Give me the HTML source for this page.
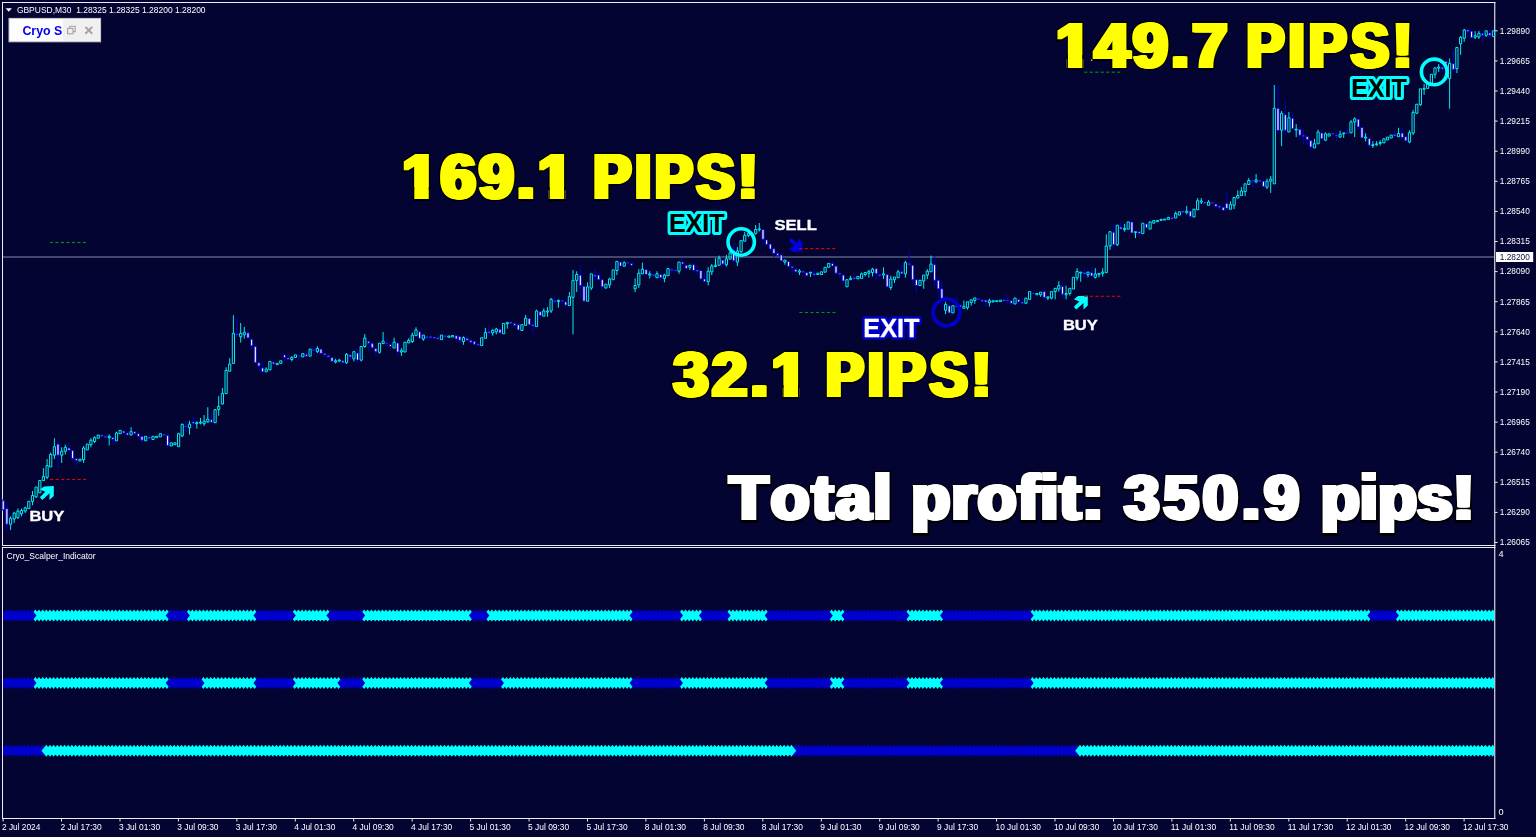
<!DOCTYPE html>
<html lang="en"><head><meta charset="utf-8"><title>GBPUSD M30 - Cryo Scalper</title>
<style>
html,body{margin:0;padding:0;background:#040433;width:1536px;height:837px;overflow:hidden}
svg{display:block;position:absolute;left:0;top:0}
text{font-family:"Liberation Sans",sans-serif}
.ax{font-size:9.2px;fill:#fff}
.big{font-family:"Liberation Sans",sans-serif;font-weight:700;stroke-linejoin:miter;stroke-miterlimit:3;font-kerning:none}
.lab{font-family:"DejaVu Sans","Liberation Sans",sans-serif;font-weight:700;fill:#fff}
.ex{font-family:"Liberation Sans",sans-serif;font-weight:700;stroke-linejoin:round}
</style></head><body>
<svg width="1536" height="837" viewBox="0 0 1536 837">
<rect width="1536" height="837" fill="#040433"/>

<g fill="#ececf2">
<rect x="2" y="2" width="1493.5" height="1"/>
<rect x="2" y="2" width="1" height="544"/>
<rect x="2" y="547" width="1" height="272"/>
<rect x="1494.2" y="2" width="1.1" height="817"/>
<rect x="2" y="545" width="1493.5" height="1"/>
<rect x="2" y="547" width="1493.5" height="1"/>
<rect x="2" y="818" width="1493.5" height="1"/>
<rect x="1495" y="30.3" width="2.6" height="1"/>
<rect x="1495" y="60.4" width="2.6" height="1"/>
<rect x="1495" y="90.5" width="2.6" height="1"/>
<rect x="1495" y="120.6" width="2.6" height="1"/>
<rect x="1495" y="150.7" width="2.6" height="1"/>
<rect x="1495" y="180.8" width="2.6" height="1"/>
<rect x="1495" y="210.9" width="2.6" height="1"/>
<rect x="1495" y="241.0" width="2.6" height="1"/>
<rect x="1495" y="271.1" width="2.6" height="1"/>
<rect x="1495" y="301.2" width="2.6" height="1"/>
<rect x="1495" y="331.3" width="2.6" height="1"/>
<rect x="1495" y="361.4" width="2.6" height="1"/>
<rect x="1495" y="391.5" width="2.6" height="1"/>
<rect x="1495" y="421.6" width="2.6" height="1"/>
<rect x="1495" y="451.7" width="2.6" height="1"/>
<rect x="1495" y="481.8" width="2.6" height="1"/>
<rect x="1495" y="511.9" width="2.6" height="1"/>
<rect x="1495" y="542.0" width="2.6" height="1"/>
<rect x="2.6" y="819" width="1" height="2.5"/>
<rect x="61.0" y="819" width="1" height="2.5"/>
<rect x="119.5" y="819" width="1" height="2.5"/>
<rect x="177.9" y="819" width="1" height="2.5"/>
<rect x="236.4" y="819" width="1" height="2.5"/>
<rect x="294.8" y="819" width="1" height="2.5"/>
<rect x="353.2" y="819" width="1" height="2.5"/>
<rect x="411.7" y="819" width="1" height="2.5"/>
<rect x="470.1" y="819" width="1" height="2.5"/>
<rect x="528.6" y="819" width="1" height="2.5"/>
<rect x="587.0" y="819" width="1" height="2.5"/>
<rect x="645.4" y="819" width="1" height="2.5"/>
<rect x="703.9" y="819" width="1" height="2.5"/>
<rect x="762.3" y="819" width="1" height="2.5"/>
<rect x="820.8" y="819" width="1" height="2.5"/>
<rect x="879.2" y="819" width="1" height="2.5"/>
<rect x="937.6" y="819" width="1" height="2.5"/>
<rect x="996.1" y="819" width="1" height="2.5"/>
<rect x="1054.5" y="819" width="1" height="2.5"/>
<rect x="1113.0" y="819" width="1" height="2.5"/>
<rect x="1171.4" y="819" width="1" height="2.5"/>
<rect x="1229.8" y="819" width="1" height="2.5"/>
<rect x="1288.3" y="819" width="1" height="2.5"/>
<rect x="1346.7" y="819" width="1" height="2.5"/>
<rect x="1405.2" y="819" width="1" height="2.5"/>
<rect x="1463.6" y="819" width="1" height="2.5"/>
</g>
<g class="ax">
<text x="1499.8" y="33.6" textLength="30" lengthAdjust="spacingAndGlyphs">1.29890</text>
<text x="1499.8" y="63.7" textLength="30" lengthAdjust="spacingAndGlyphs">1.29665</text>
<text x="1499.8" y="93.8" textLength="30" lengthAdjust="spacingAndGlyphs">1.29440</text>
<text x="1499.8" y="123.9" textLength="30" lengthAdjust="spacingAndGlyphs">1.29215</text>
<text x="1499.8" y="154.0" textLength="30" lengthAdjust="spacingAndGlyphs">1.28990</text>
<text x="1499.8" y="184.1" textLength="30" lengthAdjust="spacingAndGlyphs">1.28765</text>
<text x="1499.8" y="214.2" textLength="30" lengthAdjust="spacingAndGlyphs">1.28540</text>
<text x="1499.8" y="244.3" textLength="30" lengthAdjust="spacingAndGlyphs">1.28315</text>
<text x="1499.8" y="274.4" textLength="30" lengthAdjust="spacingAndGlyphs">1.28090</text>
<text x="1499.8" y="304.5" textLength="30" lengthAdjust="spacingAndGlyphs">1.27865</text>
<text x="1499.8" y="334.6" textLength="30" lengthAdjust="spacingAndGlyphs">1.27640</text>
<text x="1499.8" y="364.7" textLength="30" lengthAdjust="spacingAndGlyphs">1.27415</text>
<text x="1499.8" y="394.8" textLength="30" lengthAdjust="spacingAndGlyphs">1.27190</text>
<text x="1499.8" y="424.9" textLength="30" lengthAdjust="spacingAndGlyphs">1.26965</text>
<text x="1499.8" y="455.0" textLength="30" lengthAdjust="spacingAndGlyphs">1.26740</text>
<text x="1499.8" y="485.1" textLength="30" lengthAdjust="spacingAndGlyphs">1.26515</text>
<text x="1499.8" y="515.2" textLength="30" lengthAdjust="spacingAndGlyphs">1.26290</text>
<text x="1499.8" y="545.3" textLength="30" lengthAdjust="spacingAndGlyphs">1.26065</text>
<text x="2.0" y="830.2" textLength="38.3" lengthAdjust="spacingAndGlyphs">2 Jul 2024</text>
<text x="60.4" y="830.2" textLength="41.2" lengthAdjust="spacingAndGlyphs">2 Jul 17:30</text>
<text x="118.9" y="830.2" textLength="41.2" lengthAdjust="spacingAndGlyphs">3 Jul 01:30</text>
<text x="177.3" y="830.2" textLength="41.2" lengthAdjust="spacingAndGlyphs">3 Jul 09:30</text>
<text x="235.8" y="830.2" textLength="41.2" lengthAdjust="spacingAndGlyphs">3 Jul 17:30</text>
<text x="294.2" y="830.2" textLength="41.2" lengthAdjust="spacingAndGlyphs">4 Jul 01:30</text>
<text x="352.6" y="830.2" textLength="41.2" lengthAdjust="spacingAndGlyphs">4 Jul 09:30</text>
<text x="411.1" y="830.2" textLength="41.2" lengthAdjust="spacingAndGlyphs">4 Jul 17:30</text>
<text x="469.5" y="830.2" textLength="41.2" lengthAdjust="spacingAndGlyphs">5 Jul 01:30</text>
<text x="528.0" y="830.2" textLength="41.2" lengthAdjust="spacingAndGlyphs">5 Jul 09:30</text>
<text x="586.4" y="830.2" textLength="41.2" lengthAdjust="spacingAndGlyphs">5 Jul 17:30</text>
<text x="644.8" y="830.2" textLength="41.2" lengthAdjust="spacingAndGlyphs">8 Jul 01:30</text>
<text x="703.3" y="830.2" textLength="41.2" lengthAdjust="spacingAndGlyphs">8 Jul 09:30</text>
<text x="761.7" y="830.2" textLength="41.2" lengthAdjust="spacingAndGlyphs">8 Jul 17:30</text>
<text x="820.2" y="830.2" textLength="41.2" lengthAdjust="spacingAndGlyphs">9 Jul 01:30</text>
<text x="878.6" y="830.2" textLength="41.2" lengthAdjust="spacingAndGlyphs">9 Jul 09:30</text>
<text x="937.0" y="830.2" textLength="41.2" lengthAdjust="spacingAndGlyphs">9 Jul 17:30</text>
<text x="995.5" y="830.2" textLength="45.4" lengthAdjust="spacingAndGlyphs">10 Jul 01:30</text>
<text x="1053.9" y="830.2" textLength="45.4" lengthAdjust="spacingAndGlyphs">10 Jul 09:30</text>
<text x="1112.4" y="830.2" textLength="45.4" lengthAdjust="spacingAndGlyphs">10 Jul 17:30</text>
<text x="1170.8" y="830.2" textLength="45.4" lengthAdjust="spacingAndGlyphs">11 Jul 01:30</text>
<text x="1229.2" y="830.2" textLength="45.4" lengthAdjust="spacingAndGlyphs">11 Jul 09:30</text>
<text x="1287.7" y="830.2" textLength="45.4" lengthAdjust="spacingAndGlyphs">11 Jul 17:30</text>
<text x="1346.1" y="830.2" textLength="45.4" lengthAdjust="spacingAndGlyphs">12 Jul 01:30</text>
<text x="1404.6" y="830.2" textLength="45.4" lengthAdjust="spacingAndGlyphs">12 Jul 09:30</text>
<text x="1463.0" y="830.2" textLength="45.4" lengthAdjust="spacingAndGlyphs">12 Jul 17:30</text>
<text x="1498.5" y="556.8">4</text>
<text x="1498.5" y="815.2">0</text>
<text x="6.6" y="558.6" textLength="89" lengthAdjust="spacingAndGlyphs">Cryo_Scalper_Indicator</text>
<text x="16.9" y="13.2" textLength="188.7" lengthAdjust="spacingAndGlyphs" xml:space="preserve">GBPUSD,M30  1.28325 1.28325 1.28200 1.28200</text>
</g>
<path d="M5.7 8.3h6.2l-3.1 3.5z" fill="#fff"/>
<rect x="3" y="256.3" width="1491" height="1.4" fill="#5c6688"/>
<rect x="1496" y="252" width="37.2" height="10" fill="#fff"/>
<text x="1499.8" y="259.9" font-size="9.2" fill="#101040" textLength="30" lengthAdjust="spacingAndGlyphs">1.28200</text>
<g stroke-width="0.92" fill="none">
<path stroke="#0000d8" d="M3.2 498.1V511.1M6.9 504.6V530.7M58.0 440.8V469.5M69.0 442.8V450.6M72.6 450.6V461.0M76.3 458.4V465.6M101.9 435.0V436.3M105.5 436.3V437.6M112.8 437.6V444.7M123.8 431.1V433.0M127.4 433.0V436.3M134.7 431.7V433.7M138.4 433.7V436.3M142.0 436.3V443.4M149.3 435.0V440.2M164.0 434.3V435.6M167.6 435.6V448.0M185.9 421.2V432.7M193.2 416.2V427.0M211.4 413.3V423.0M237.0 317.8V337.3M248.0 329.5V338.0M251.6 338.0V349.7M255.3 346.5V362.7M258.9 362.7V371.2M262.6 361.4V373.2M273.5 362.1V364.0M284.5 353.6V362.1M288.1 357.9V359.5M299.1 355.6V359.5M306.4 351.0V357.5M313.7 346.5V354.9M321.0 349.1V353.6M324.7 353.6V357.5M328.3 355.6V356.9M332.0 357.5V361.4M342.9 360.8V362.7M350.2 354.9V360.1M357.5 347.1V363.4M368.5 341.2V351.0M372.2 343.2V347.8M375.8 348.4V355.6M386.8 338.6V346.5M390.4 344.5V346.5M397.7 342.9V355.9M419.6 331.8V338.3M426.9 336.4V337.7M430.6 335.1V339.0M434.2 337.0V338.3M437.9 337.7V339.0M445.2 335.7V336.8M456.2 335.7V340.9M459.8 336.4V342.9M467.1 336.4V340.3M470.8 340.3V342.2M474.4 341.6V344.2M478.1 344.2V345.5M489.0 326.0V335.1M500.0 329.2V333.1M510.9 322.1V323.4M514.6 323.4V326.6M518.3 324.7V329.9M529.2 318.5V324.7M532.9 322.1V333.8M540.2 311.6V319.5M554.8 296.0V303.8M562.1 300.3V303.8M565.7 301.9V307.1M580.3 266.1V297.3M584.0 286.2V301.2M595.0 268.6V281.0M598.6 272.5V279.7M602.3 279.7V290.1M620.5 262.1V267.9M627.8 262.7V263.4M631.5 263.4V265.3M646.1 269.6V274.5M653.4 272.5V277.1M660.7 274.5V281.0M671.7 269.2V272.5M675.3 270.2V270.9M682.6 258.2V265.3M686.3 265.3V268.6M693.6 262.1V270.5M697.2 269.9V274.5M700.9 270.5V279.0M704.5 272.5V282.9M722.8 260.1V267.3M733.8 243.9V263.4M752.0 232.8V234.1M763.0 229.5V245.8M766.6 239.9V244.5M770.3 244.1V251.7M773.9 248.8V257.5M777.6 253.6V255.6M781.2 254.9V262.1M788.5 261.4V266.6M792.2 266.6V274.5M795.8 269.2V271.8M803.1 271.2V272.5M806.8 272.5V275.8M814.1 268.6V276.4M832.4 261.4V266.0M836.0 266.0V273.2M839.7 273.2V277.7M843.3 275.1V283.6M854.3 275.1V279.0M876.2 268.6V281.0M879.8 273.2V277.7M887.2 274.5V288.8M901.8 264.7V273.8M909.1 250.4V264.7M912.7 265.3V282.9M916.4 279.7V292.7M934.6 256.2V288.1M938.3 277.7V296.6M941.9 281.0V308.3M949.2 301.8V312.9M956.6 296.6V307.0M960.2 305.1V307.0M978.5 298.5V299.6M982.1 300.1V301.4M985.8 300.1V307.2M1004.0 299.8V301.1M1007.7 294.8V302.7M1011.3 300.7V305.3M1018.6 299.4V302.0M1022.3 302.0V305.3M1033.3 292.9V293.8M1044.2 288.3V299.4M1062.5 283.1V298.8M1084.4 268.2V277.9M1091.7 267.5V276.0M1113.6 223.9V248.0M1120.9 221.9V229.1M1131.9 221.9V233.0M1139.2 231.7V235.6M1146.5 223.9V227.8M1172.0 217.8V219.1M1183.0 211.1V212.4M1190.3 211.1V219.0M1204.9 202.0V203.3M1212.2 202.3V203.3M1215.9 204.0V206.6M1219.5 205.9V209.8M1223.2 207.2V210.5M1226.8 192.3V209.8M1252.4 178.6V187.1M1259.7 180.2V183.2M1263.4 181.2V186.4M1278.0 85.0V133.8M1285.3 101.4V135.6M1292.6 112.4V128.8M1299.9 126.5V140.2M1303.5 129.7V143.8M1307.2 135.2V144.7M1310.8 140.6V150.7M1321.8 130.6V138.8M1332.8 133.3V134.3M1336.4 131.5V141.5M1347.4 127.9V133.3M1358.3 117.8V130.2M1362.0 127.4V137.9M1369.3 136.5V146.6M1394.9 130.2V137.6M1402.2 127.0V139.2M1405.8 136.7V140.8M1442.3 65.4V71.9M1446.0 61.3V63.7M1453.3 50.3V71.9M1467.9 28.0V36.5M1471.6 31.2V37.7M1482.5 32.1V42.6M1489.8 29.2V38.6"/>
<path stroke="#0000d8" fill="#f4f4ff" d="M2.1 500.7h2.20V509.8h-2.20zM5.8 508.5h2.20V524.2h-2.20zM56.9 444.1h2.20V455.2h-2.20zM67.9 448.0h2.20V450.6h-2.20zM71.5 450.6h2.20V458.4h-2.20zM75.2 458.4h2.20V460.4h-2.20zM100.8 435.0h2.20V436.3h-2.20zM104.4 436.3h2.20V437.6h-2.20zM111.7 437.6h2.20V439.5h-2.20zM122.7 431.1h2.20V433.0h-2.20zM126.3 433.0h2.20V435.0h-2.20zM133.6 431.7h2.20V433.7h-2.20zM137.3 433.7h2.20V436.3h-2.20zM140.9 436.3h2.20V440.2h-2.20zM148.2 436.9h2.20V438.2h-2.20zM162.9 434.3h2.20V435.6h-2.20zM166.5 435.6h2.20V445.4h-2.20zM184.8 426.1h2.20V427.0h-2.20zM192.1 421.9h2.20V423.4h-2.20zM210.3 419.8h2.20V422.3h-2.20zM235.9 334.0h2.20V334.9h-2.20zM246.9 332.8h2.20V338.0h-2.20zM250.5 339.3h2.20V345.8h-2.20zM254.2 346.5h2.20V362.7h-2.20zM257.8 362.7h2.20V366.0h-2.20zM261.5 367.9h2.20V371.8h-2.20zM272.4 362.1h2.20V364.0h-2.20zM283.4 354.9h2.20V357.5h-2.20zM287.0 357.9h2.20V359.5h-2.20zM298.0 355.4h2.20V356.3h-2.20zM305.3 354.3h2.20V356.2h-2.20zM312.6 349.6h2.20V350.5h-2.20zM319.9 349.1h2.20V353.6h-2.20zM323.6 353.6h2.20V354.9h-2.20zM327.2 355.6h2.20V356.9h-2.20zM330.9 357.5h2.20V361.4h-2.20zM341.8 360.8h2.20V362.7h-2.20zM349.1 354.9h2.20V356.9h-2.20zM356.4 353.0h2.20V360.1h-2.20zM367.4 341.2h2.20V343.2h-2.20zM371.1 343.2h2.20V347.8h-2.20zM374.7 348.4h2.20V351.7h-2.20zM385.7 343.2h2.20V344.1h-2.20zM389.3 344.5h2.20V346.5h-2.20zM396.6 342.9h2.20V352.0h-2.20zM418.5 331.8h2.20V338.3h-2.20zM425.8 336.4h2.20V337.7h-2.20zM429.5 336.4h2.20V337.7h-2.20zM433.1 337.0h2.20V338.3h-2.20zM436.8 337.7h2.20V339.0h-2.20zM444.1 335.7h2.20V336.8h-2.20zM455.1 335.7h2.20V339.0h-2.20zM458.7 336.4h2.20V340.3h-2.20zM466.0 338.3h2.20V340.3h-2.20zM469.7 340.3h2.20V342.2h-2.20zM473.3 341.6h2.20V344.2h-2.20zM477.0 344.2h2.20V345.5h-2.20zM487.9 331.8h2.20V333.1h-2.20zM498.9 329.2h2.20V333.1h-2.20zM509.8 322.1h2.20V323.4h-2.20zM513.5 323.4h2.20V325.3h-2.20zM517.2 324.7h2.20V329.9h-2.20zM528.1 318.5h2.20V324.7h-2.20zM531.8 324.7h2.20V326.0h-2.20zM539.1 311.6h2.20V315.5h-2.20zM553.7 300.8h2.20V301.7h-2.20zM561.0 300.3h2.20V301.2h-2.20zM564.6 301.9h2.20V305.1h-2.20zM579.2 275.2h2.20V285.6h-2.20zM582.9 286.2h2.20V301.2h-2.20zM593.9 275.1h2.20V276.4h-2.20zM597.5 275.1h2.20V279.7h-2.20zM601.2 279.7h2.20V286.8h-2.20zM619.4 262.1h2.20V266.0h-2.20zM626.7 262.6h2.20V263.5h-2.20zM630.4 263.4h2.20V265.3h-2.20zM645.0 269.6h2.20V274.5h-2.20zM652.3 274.5h2.20V275.8h-2.20zM659.6 274.5h2.20V277.7h-2.20zM670.6 269.3h2.20V270.2h-2.20zM674.2 270.1h2.20V271.0h-2.20zM681.5 262.1h2.20V264.0h-2.20zM685.2 265.3h2.20V268.6h-2.20zM692.5 264.7h2.20V270.5h-2.20zM696.1 269.9h2.20V271.2h-2.20zM699.8 270.5h2.20V279.0h-2.20zM703.4 279.0h2.20V281.6h-2.20zM721.7 260.1h2.20V264.0h-2.20zM732.6 250.4h2.20V260.8h-2.20zM750.9 232.8h2.20V234.1h-2.20zM761.9 229.5h2.20V239.3h-2.20zM765.5 239.9h2.20V244.5h-2.20zM769.2 244.1h2.20V249.1h-2.20zM772.8 248.8h2.20V253.6h-2.20zM776.5 253.6h2.20V255.6h-2.20zM780.1 254.9h2.20V260.8h-2.20zM787.4 261.4h2.20V266.6h-2.20zM791.1 266.6h2.20V267.9h-2.20zM794.7 269.2h2.20V271.8h-2.20zM802.0 271.2h2.20V272.5h-2.20zM805.7 272.5h2.20V275.8h-2.20zM813.0 273.8h2.20V275.1h-2.20zM831.3 263.4h2.20V266.0h-2.20zM834.9 266.0h2.20V273.2h-2.20zM838.6 273.2h2.20V274.5h-2.20zM842.2 275.1h2.20V281.0h-2.20zM853.2 277.7h2.20V279.0h-2.20zM875.1 268.6h2.20V273.8h-2.20zM878.7 274.5h2.20V275.8h-2.20zM886.1 274.5h2.20V286.8h-2.20zM900.7 271.8h2.20V273.8h-2.20zM908.0 263.4h2.20V264.7h-2.20zM911.6 265.3h2.20V279.7h-2.20zM915.3 279.7h2.20V285.5h-2.20zM933.5 264.7h2.20V280.3h-2.20zM937.2 280.3h2.20V288.8h-2.20zM940.8 288.8h2.20V299.8h-2.20zM948.1 305.7h2.20V312.9h-2.20zM955.5 305.7h2.20V307.0h-2.20zM959.1 305.1h2.20V307.0h-2.20zM977.4 298.5h2.20V299.6h-2.20zM981.0 300.1h2.20V301.4h-2.20zM984.7 300.1h2.20V302.0h-2.20zM1002.9 299.8h2.20V301.1h-2.20zM1006.6 300.1h2.20V301.1h-2.20zM1010.2 300.7h2.20V303.3h-2.20zM1017.5 299.4h2.20V302.0h-2.20zM1021.2 302.0h2.20V303.3h-2.20zM1032.2 292.9h2.20V293.8h-2.20zM1043.1 291.6h2.20V297.4h-2.20zM1061.4 286.4h2.20V294.2h-2.20zM1083.3 272.4h2.20V273.8h-2.20zM1090.6 272.7h2.20V276.0h-2.20zM1112.5 232.3h2.20V244.7h-2.20zM1119.8 227.1h2.20V229.1h-2.20zM1130.8 221.9h2.20V233.0h-2.20zM1138.1 231.7h2.20V233.6h-2.20zM1145.4 223.9h2.20V227.8h-2.20zM1171.0 217.8h2.20V219.1h-2.20zM1181.9 211.1h2.20V212.4h-2.20zM1189.2 211.1h2.20V216.4h-2.20zM1203.8 202.0h2.20V203.3h-2.20zM1211.1 202.3h2.20V203.3h-2.20zM1214.8 204.0h2.20V206.6h-2.20zM1218.4 205.9h2.20V207.2h-2.20zM1222.1 207.2h2.20V210.5h-2.20zM1225.7 203.3h2.20V208.5h-2.20zM1251.3 180.6h2.20V181.5h-2.20zM1258.6 180.2h2.20V181.2h-2.20zM1262.3 181.2h2.20V186.4h-2.20zM1276.9 108.3h2.20V130.6h-2.20zM1284.2 114.7h2.20V130.2h-2.20zM1291.5 118.3h2.20V128.8h-2.20zM1298.8 129.2h2.20V135.2h-2.20zM1302.4 135.2h2.20V136.3h-2.20zM1306.1 136.5h2.20V139.7h-2.20zM1309.7 140.6h2.20V147.0h-2.20zM1320.7 132.9h2.20V138.8h-2.20zM1331.7 133.3h2.20V134.2h-2.20zM1335.3 135.0h2.20V135.9h-2.20zM1346.3 132.4h2.20V133.3h-2.20zM1357.2 119.2h2.20V127.0h-2.20zM1360.9 127.4h2.20V137.9h-2.20zM1368.2 138.4h2.20V145.2h-2.20zM1393.8 134.3h2.20V135.9h-2.20zM1401.1 133.1h2.20V137.6h-2.20zM1404.7 136.7h2.20V140.8h-2.20zM1441.2 67.4h2.20V69.0h-2.20zM1444.9 61.3h2.20V63.7h-2.20zM1452.2 63.7h2.20V69.4h-2.20zM1466.8 30.0h2.20V31.7h-2.20zM1470.5 31.2h2.20V37.7h-2.20zM1481.4 33.7h2.20V35.3h-2.20zM1488.7 32.9h2.20V35.3h-2.20z"/>
<path stroke="#00ffff" d="M10.6 516.4V518.3M10.6 524.2V530.0M14.2 511.8V513.1M14.2 519.0V522.9M17.9 508.5V511.1M17.9 517.7V519.0M21.5 508.5V510.5M21.5 513.8V516.4M25.2 506.6V507.9M25.2 511.1V513.1M28.8 501.4V501.4M28.8 508.5V508.5M32.5 491.0V495.5M32.5 501.4V505.3M36.1 487.1V487.1M36.1 496.8V498.1M39.8 480.5V480.5M39.8 492.9V492.9M43.4 468.2V476.6M43.4 480.5V480.5M47.1 459.1V465.6M47.1 477.3V479.2M50.7 452.6V454.5M50.7 466.9V466.9M54.4 438.2V446.7M54.4 455.2V459.1M61.7 447.3V451.2M61.7 455.2V463.0M65.3 444.7V447.3M65.3 451.2V454.5M80.0 459.1V459.1M80.0 461.0V461.0M83.6 446.0V448.0M83.6 459.7V463.0M87.3 444.1V444.1M87.3 449.9V449.9M90.9 438.2V440.2M90.9 444.7V447.3M94.6 436.3V437.6M94.6 441.5V442.8M98.2 435.0V435.0M98.2 438.2V438.2M109.2 434.3V436.3M109.2 437.6V445.4M116.5 431.7V433.0M116.5 440.8V440.8M120.1 430.4V430.4M120.1 433.7V433.7M131.1 427.2V431.7M131.1 435.0V435.0M145.7 436.3V436.3M145.7 440.8V440.8M153.0 436.3V436.3M153.0 439.5V439.5M156.7 436.3V436.3M156.7 437.6V437.6M160.3 433.7V433.7M160.3 436.9V436.9M171.3 442.8V442.8M171.3 446.0V446.0M174.9 442.8V442.8M174.9 444.7V444.7M178.6 432.7V433.8M178.6 446.7V446.7M182.2 423.4V424.4M182.2 435.9V437.0M189.5 420.9V424.1M189.5 427.7V434.5M196.8 421.2V422.7M196.8 423.7V428.7M200.5 418.0V422.2M200.5 423.1V424.4M204.1 415.1V421.2M204.1 423.7V425.9M207.8 407.2V419.1M207.8 421.9V422.7M215.1 409.0V409.7M215.1 422.7V422.7M218.7 396.1V406.5M218.7 409.4V415.8M222.4 387.9V393.3M222.4 404.0V404.4M226.1 367.3V370.5M226.1 393.6V393.6M229.7 358.2V364.0M229.7 371.2V371.2M233.4 315.2V333.4M233.4 363.4V363.4M240.7 323.0V333.4M240.7 336.7V342.6M244.3 326.9V332.4M244.3 334.7V338.6M266.2 367.3V369.2M266.2 371.8V371.8M269.9 361.4V361.4M269.9 369.9V369.9M277.2 363.4V363.4M277.2 364.7V364.7M280.8 360.8V360.8M280.8 363.4V363.4M291.8 356.2V357.5M291.8 359.5V361.4M295.4 354.9V354.9M295.4 357.5V357.5M302.8 353.6V353.6M302.8 356.9V356.9M310.1 349.1V349.1M310.1 356.2V356.2M317.4 346.2V348.4M317.4 351.7V353.0M335.6 358.8V360.8M335.6 362.1V363.4M339.3 358.8V360.1M339.3 361.0V362.1M346.6 353.0V354.3M346.6 362.7V364.0M353.9 351.7V351.7M353.9 358.8V361.4M361.2 346.5V346.5M361.2 360.1V361.4M364.8 334.1V338.0M364.8 346.5V347.8M379.5 343.2V343.2M379.5 352.3V353.6M383.1 332.1V341.2M383.1 343.6V343.6M394.1 337.7V342.2M394.1 348.1V348.1M401.4 348.1V350.7M401.4 352.0V355.9M405.0 342.2V342.2M405.0 352.0V352.0M408.7 338.3V340.3M408.7 342.9V342.9M412.3 332.5V335.1M412.3 341.6V342.9M416.0 327.3V329.9M416.0 335.7V335.7M423.3 335.1V335.1M423.3 339.0V340.9M441.5 335.1V335.1M441.5 339.6V339.6M448.9 336.0V336.0M448.9 337.3V337.3M452.5 335.5V335.5M452.5 337.0V337.0M463.5 336.4V337.7M463.5 341.6V344.8M481.7 337.7V337.7M481.7 345.5V345.5M485.4 327.9V332.5M485.4 338.3V338.3M492.7 329.2V330.3M492.7 332.9V335.7M496.3 327.9V329.0M496.3 331.8V334.4M503.6 323.4V323.4M503.6 333.8V333.8M507.3 322.4V322.4M507.3 323.8V328.6M521.9 324.7V324.7M521.9 330.5V330.5M525.6 314.9V318.2M525.6 325.3V325.3M536.5 309.7V311.0M536.5 326.6V326.6M543.8 308.4V311.0M543.8 316.2V316.2M547.5 307.1V311.0M547.5 312.0V316.8M551.1 298.0V299.3M551.1 311.0V312.9M558.4 299.3V300.6M558.4 301.6V307.7M569.4 292.1V296.7M569.4 305.5V305.5M573.0 270.0V280.4M573.0 297.3V334.4M576.7 271.3V274.5M576.7 280.4V292.1M587.6 282.3V286.9M587.6 301.2V301.2M591.3 273.8V273.8M591.3 288.1V290.1M605.9 284.2V284.2M605.9 288.1V288.1M609.6 277.7V279.0M609.6 284.9V288.1M613.2 269.9V269.9M613.2 279.7V279.7M616.9 261.4V261.4M616.9 270.5V275.1M624.2 261.4V262.7M624.2 266.2V266.2M635.1 278.4V285.5M635.1 288.8V292.0M638.8 269.2V273.2M638.8 284.9V288.1M642.4 262.7V269.2M642.4 273.8V273.8M649.7 271.2V273.8M649.7 275.1V278.4M657.0 271.2V273.8M657.0 277.7V277.7M664.4 273.8V275.1M664.4 278.4V282.3M668.0 268.6V268.6M668.0 275.8V275.8M679.0 262.1V262.1M679.0 271.2V273.8M689.9 265.3V265.3M689.9 267.3V269.9M708.2 267.3V271.2M708.2 281.6V285.5M711.8 264.0V266.0M711.8 271.8V275.1M715.5 258.2V265.3M715.5 266.6V267.3M719.1 255.6V258.2M719.1 265.3V265.3M726.4 254.9V258.8M726.4 264.7V266.6M730.1 251.0V253.0M730.1 259.2V259.2M737.4 247.1V251.0M737.4 262.1V266.0M741.1 240.6V240.6M741.1 251.7V253.0M744.7 232.1V235.4M744.7 241.2V241.2M748.4 233.4V233.4M748.4 235.4V237.3M755.7 225.0V229.5M755.7 233.4V234.7M759.3 223.0V228.9M759.3 229.8V231.5M784.9 260.1V260.1M784.9 262.1V264.7M799.5 269.2V270.9M799.5 272.2V275.1M810.5 272.2V272.2M810.5 273.1V277.1M817.8 273.2V273.2M817.8 274.5V274.5M821.4 271.8V271.8M821.4 274.5V274.5M825.1 267.3V267.3M825.1 272.2V272.2M828.7 263.4V263.4M828.7 267.3V267.3M847.0 279.7V279.7M847.0 286.8V286.8M850.6 275.8V278.4M850.6 279.7V279.7M857.9 276.4V276.4M857.9 278.8V278.8M861.6 272.5V273.8M861.6 278.4V278.4M865.2 272.5V272.5M865.2 274.5V276.4M868.9 269.9V271.2M868.9 273.2V277.7M872.5 267.9V269.2M872.5 272.5V276.4M883.5 267.3V273.8M883.5 275.1V279.0M890.8 275.8V279.0M890.8 287.5V290.1M894.5 277.1V277.1M894.5 279.7V282.9M898.1 269.9V271.8M898.1 277.7V277.7M905.4 260.8V262.7M905.4 273.8V277.7M920.0 280.3V280.3M920.0 285.5V285.5M923.7 275.1V275.1M923.7 281.0V288.8M927.3 269.2V271.2M927.3 275.1V279.0M931.0 255.6V264.0M931.0 271.8V271.8M945.6 301.8V304.4M945.6 310.3V314.2M952.9 305.7V305.7M952.9 312.9V312.9M963.9 300.5V306.4M963.9 308.3V308.3M967.5 301.8V301.8M967.5 307.7V309.6M971.2 299.8V299.8M971.2 302.4V305.7M974.8 297.9V297.9M974.8 300.5V303.8M989.4 298.8V300.7M989.4 302.7V306.6M993.1 300.7V300.7M993.1 302.0V302.0M996.7 300.7V300.7M996.7 301.6V301.6M1000.4 300.1V300.1M1000.4 301.6V301.6M1015.0 298.1V298.1M1015.0 304.0V304.0M1025.9 298.1V298.1M1025.9 303.3V303.3M1029.6 291.6V291.6M1029.6 299.4V299.4M1036.9 293.5V293.5M1036.9 294.8V294.8M1040.6 292.2V292.2M1040.6 294.8V296.8M1047.9 296.8V296.8M1047.9 298.1V300.1M1051.5 291.6V291.6M1051.5 298.1V299.4M1055.2 288.3V288.3M1055.2 291.6V299.4M1058.8 281.2V285.7M1058.8 289.0V291.6M1066.1 285.7V293.5M1066.1 294.8V299.4M1069.8 288.3V288.3M1069.8 293.5V295.5M1073.4 277.3V277.3M1073.4 289.0V289.0M1077.1 268.2V271.4M1077.1 277.9V280.5M1080.7 272.1V272.1M1080.7 273.0V281.8M1088.0 272.1V272.1M1088.0 274.7V277.3M1095.3 268.2V274.0M1095.3 277.3V278.6M1099.0 273.4V273.4M1099.0 274.7V277.3M1102.7 268.2V272.1M1102.7 273.4V276.6M1106.3 234.3V246.0M1106.3 272.7V272.7M1110.0 231.7V231.7M1110.0 246.0V249.9M1117.3 225.2V225.2M1117.3 244.7V246.0M1124.6 223.9V228.4M1124.6 229.7V231.7M1128.2 221.9V221.9M1128.2 229.1V229.1M1135.5 231.7V231.7M1135.5 232.6V238.2M1142.8 223.2V223.2M1142.8 233.6V233.6M1150.1 221.9V221.9M1150.1 229.1V229.1M1153.8 220.6V220.6M1153.8 223.2V223.2M1157.4 220.4V220.4M1157.4 221.7V221.7M1161.1 219.3V219.3M1161.1 220.4V220.4M1164.7 219.1V219.1M1164.7 220.0V220.0M1168.4 217.4V217.4M1168.4 219.3V219.3M1175.7 211.5V213.5M1175.7 218.0V218.0M1179.4 211.8V211.8M1179.4 215.1V215.1M1186.7 205.9V211.1M1186.7 212.4V214.4M1194.0 209.2V209.2M1194.0 217.0V217.0M1197.6 198.1V200.7M1197.6 209.8V209.8M1201.3 198.1V201.0M1201.3 202.0V204.0M1208.6 200.1V202.0M1208.6 205.3V205.3M1230.5 201.4V204.6M1230.5 209.2V209.2M1234.1 197.5V197.5M1234.1 205.3V209.2M1237.8 190.3V195.5M1237.8 198.1V198.1M1241.4 187.1V191.0M1241.4 195.5V195.5M1245.1 183.8V183.8M1245.1 191.6V196.2M1248.8 177.9V180.5M1248.8 184.5V184.5M1256.1 174.0V179.9M1256.1 181.8V183.2M1267.0 178.6V181.2M1267.0 187.1V189.0M1270.7 176.0V179.2M1270.7 181.2V192.9M1274.3 85.0V108.3M1274.3 183.8V183.8M1281.6 111.0V113.3M1281.6 130.2V146.1M1288.9 111.9V117.8M1288.9 132.0V132.0M1296.2 124.2V129.2M1296.2 130.1V137.0M1314.5 138.8V143.8M1314.5 147.9V147.9M1318.1 129.7V132.0M1318.1 143.8V143.8M1325.5 132.4V133.8M1325.5 140.2V141.1M1329.1 133.8V133.8M1329.1 136.1V136.1M1340.1 130.6V134.3M1340.1 137.0V137.9M1343.7 132.9V132.9M1343.7 133.8V137.9M1351.0 120.1V121.9M1351.0 132.9V132.9M1354.7 117.4V118.8M1354.7 121.9V137.0M1365.6 133.3V137.0M1365.6 138.1V141.5M1372.9 141.1V144.7M1372.9 145.6V147.9M1376.6 141.1V143.8M1376.6 144.7V146.1M1380.2 140.2V142.5M1380.2 143.4V145.6M1383.9 138.8V138.8M1383.9 142.9V142.9M1387.5 137.1V137.1M1387.5 140.0V140.0M1391.2 135.1V135.1M1391.2 138.0V138.0M1398.5 127.8V133.5M1398.5 136.7V136.7M1409.5 130.2V132.7M1409.5 142.0V143.2M1413.1 109.9V112.4M1413.1 133.1V135.1M1416.8 104.2V104.2M1416.8 113.2V114.0M1420.4 88.8V88.8M1420.4 104.7V105.9M1424.1 83.9V88.4M1424.1 89.3V94.9M1427.7 83.1V83.1M1427.7 88.4V88.4M1431.4 74.3V74.3M1431.4 83.1V83.1M1435.0 67.8V67.8M1435.0 74.3V78.4M1438.7 64.1V67.0M1438.7 68.2V71.9M1449.6 58.5V63.3M1449.6 78.4V108.7M1456.9 47.5V47.5M1456.9 68.6V73.1M1460.6 36.1V37.3M1460.6 43.8V54.8M1464.2 28.8V30.0M1464.2 38.2V41.8M1475.2 31.2V35.7M1475.2 37.3V39.0M1478.9 30.8V33.3M1478.9 36.9V39.0M1486.2 30.8V30.8M1486.2 35.3V36.9M1493.5 30.8V30.8M1493.5 36.5V36.5"/>
<path stroke="#00ffff" d="M9.5 518.3h2.20V524.2h-2.20zM13.1 513.1h2.20V519.0h-2.20zM16.8 511.1h2.20V517.7h-2.20zM20.4 510.5h2.20V513.8h-2.20zM24.1 507.9h2.20V511.1h-2.20zM27.7 501.4h2.20V508.5h-2.20zM31.4 495.5h2.20V501.4h-2.20zM35.0 487.1h2.20V496.8h-2.20zM38.7 480.5h2.20V492.9h-2.20zM42.3 476.6h2.20V480.5h-2.20zM46.0 465.6h2.20V477.3h-2.20zM49.6 454.5h2.20V466.9h-2.20zM53.3 446.7h2.20V455.2h-2.20zM60.6 451.2h2.20V455.2h-2.20zM64.2 447.3h2.20V451.2h-2.20zM78.9 459.1h2.20V461.0h-2.20zM82.5 448.0h2.20V459.7h-2.20zM86.2 444.1h2.20V449.9h-2.20zM89.8 440.2h2.20V444.7h-2.20zM93.5 437.6h2.20V441.5h-2.20zM97.1 435.0h2.20V438.2h-2.20zM108.1 436.3h2.20V437.6h-2.20zM115.4 433.0h2.20V440.8h-2.20zM119.0 430.4h2.20V433.7h-2.20zM130.0 431.7h2.20V435.0h-2.20zM144.6 436.3h2.20V440.8h-2.20zM151.9 436.3h2.20V439.5h-2.20zM155.6 436.3h2.20V437.6h-2.20zM159.2 433.7h2.20V436.9h-2.20zM170.2 442.8h2.20V446.0h-2.20zM173.8 442.8h2.20V444.7h-2.20zM177.5 433.8h2.20V446.7h-2.20zM181.1 424.4h2.20V435.9h-2.20zM188.4 424.1h2.20V427.7h-2.20zM195.7 422.7h2.20V423.7h-2.20zM199.4 422.2h2.20V423.1h-2.20zM203.0 421.2h2.20V423.7h-2.20zM206.7 419.1h2.20V421.9h-2.20zM214.0 409.7h2.20V422.7h-2.20zM217.6 406.5h2.20V409.4h-2.20zM221.3 393.3h2.20V404.0h-2.20zM225.0 370.5h2.20V393.6h-2.20zM228.6 364.0h2.20V371.2h-2.20zM232.3 333.4h2.20V363.4h-2.20zM239.6 333.4h2.20V336.7h-2.20zM243.2 332.4h2.20V334.7h-2.20zM265.1 369.2h2.20V371.8h-2.20zM268.8 361.4h2.20V369.9h-2.20zM276.1 363.4h2.20V364.7h-2.20zM279.7 360.8h2.20V363.4h-2.20zM290.7 357.5h2.20V359.5h-2.20zM294.3 354.9h2.20V357.5h-2.20zM301.7 353.6h2.20V356.9h-2.20zM309.0 349.1h2.20V356.2h-2.20zM316.3 348.4h2.20V351.7h-2.20zM334.5 360.8h2.20V362.1h-2.20zM338.2 360.1h2.20V361.0h-2.20zM345.5 354.3h2.20V362.7h-2.20zM352.8 351.7h2.20V358.8h-2.20zM360.1 346.5h2.20V360.1h-2.20zM363.7 338.0h2.20V346.5h-2.20zM378.4 343.2h2.20V352.3h-2.20zM382.0 341.2h2.20V343.6h-2.20zM393.0 342.2h2.20V348.1h-2.20zM400.3 350.7h2.20V352.0h-2.20zM403.9 342.2h2.20V352.0h-2.20zM407.6 340.3h2.20V342.9h-2.20zM411.2 335.1h2.20V341.6h-2.20zM414.9 329.9h2.20V335.7h-2.20zM422.2 335.1h2.20V339.0h-2.20zM440.4 335.1h2.20V339.6h-2.20zM447.8 336.0h2.20V337.3h-2.20zM451.4 335.5h2.20V337.0h-2.20zM462.4 337.7h2.20V341.6h-2.20zM480.6 337.7h2.20V345.5h-2.20zM484.3 332.5h2.20V338.3h-2.20zM491.6 330.3h2.20V332.9h-2.20zM495.2 329.0h2.20V331.8h-2.20zM502.5 323.4h2.20V333.8h-2.20zM506.2 322.4h2.20V323.8h-2.20zM520.8 324.7h2.20V330.5h-2.20zM524.5 318.2h2.20V325.3h-2.20zM535.4 311.0h2.20V326.6h-2.20zM542.7 311.0h2.20V316.2h-2.20zM546.4 311.0h2.20V312.0h-2.20zM550.0 299.3h2.20V311.0h-2.20zM557.3 300.6h2.20V301.6h-2.20zM568.3 296.7h2.20V305.5h-2.20zM571.9 280.4h2.20V297.3h-2.20zM575.6 274.5h2.20V280.4h-2.20zM586.5 286.9h2.20V301.2h-2.20zM590.2 273.8h2.20V288.1h-2.20zM604.8 284.2h2.20V288.1h-2.20zM608.5 279.0h2.20V284.9h-2.20zM612.1 269.9h2.20V279.7h-2.20zM615.8 261.4h2.20V270.5h-2.20zM623.1 262.7h2.20V266.2h-2.20zM634.0 285.5h2.20V288.8h-2.20zM637.7 273.2h2.20V284.9h-2.20zM641.3 269.2h2.20V273.8h-2.20zM648.6 273.8h2.20V275.1h-2.20zM655.9 273.8h2.20V277.7h-2.20zM663.3 275.1h2.20V278.4h-2.20zM666.9 268.6h2.20V275.8h-2.20zM677.9 262.1h2.20V271.2h-2.20zM688.8 265.3h2.20V267.3h-2.20zM707.1 271.2h2.20V281.6h-2.20zM710.7 266.0h2.20V271.8h-2.20zM714.4 265.3h2.20V266.6h-2.20zM718.0 258.2h2.20V265.3h-2.20zM725.3 258.8h2.20V264.7h-2.20zM729.0 253.0h2.20V259.2h-2.20zM736.3 251.0h2.20V262.1h-2.20zM740.0 240.6h2.20V251.7h-2.20zM743.6 235.4h2.20V241.2h-2.20zM747.3 233.4h2.20V235.4h-2.20zM754.6 229.5h2.20V233.4h-2.20zM758.2 228.9h2.20V229.8h-2.20zM783.8 260.1h2.20V262.1h-2.20zM798.4 270.9h2.20V272.2h-2.20zM809.4 272.2h2.20V273.1h-2.20zM816.7 273.2h2.20V274.5h-2.20zM820.3 271.8h2.20V274.5h-2.20zM824.0 267.3h2.20V272.2h-2.20zM827.6 263.4h2.20V267.3h-2.20zM845.9 279.7h2.20V286.8h-2.20zM849.5 278.4h2.20V279.7h-2.20zM856.8 276.4h2.20V278.8h-2.20zM860.5 273.8h2.20V278.4h-2.20zM864.1 272.5h2.20V274.5h-2.20zM867.8 271.2h2.20V273.2h-2.20zM871.4 269.2h2.20V272.5h-2.20zM882.4 273.8h2.20V275.1h-2.20zM889.7 279.0h2.20V287.5h-2.20zM893.4 277.1h2.20V279.7h-2.20zM897.0 271.8h2.20V277.7h-2.20zM904.3 262.7h2.20V273.8h-2.20zM918.9 280.3h2.20V285.5h-2.20zM922.6 275.1h2.20V281.0h-2.20zM926.2 271.2h2.20V275.1h-2.20zM929.9 264.0h2.20V271.8h-2.20zM944.5 304.4h2.20V310.3h-2.20zM951.8 305.7h2.20V312.9h-2.20zM962.8 306.4h2.20V308.3h-2.20zM966.4 301.8h2.20V307.7h-2.20zM970.1 299.8h2.20V302.4h-2.20zM973.7 297.9h2.20V300.5h-2.20zM988.3 300.7h2.20V302.7h-2.20zM992.0 300.7h2.20V302.0h-2.20zM995.6 300.7h2.20V301.6h-2.20zM999.3 300.1h2.20V301.6h-2.20zM1013.9 298.1h2.20V304.0h-2.20zM1024.8 298.1h2.20V303.3h-2.20zM1028.5 291.6h2.20V299.4h-2.20zM1035.8 293.5h2.20V294.8h-2.20zM1039.5 292.2h2.20V294.8h-2.20zM1046.8 296.8h2.20V298.1h-2.20zM1050.4 291.6h2.20V298.1h-2.20zM1054.1 288.3h2.20V291.6h-2.20zM1057.7 285.7h2.20V289.0h-2.20zM1065.0 293.5h2.20V294.8h-2.20zM1068.7 288.3h2.20V293.5h-2.20zM1072.3 277.3h2.20V289.0h-2.20zM1076.0 271.4h2.20V277.9h-2.20zM1079.6 272.1h2.20V273.0h-2.20zM1086.9 272.1h2.20V274.7h-2.20zM1094.2 274.0h2.20V277.3h-2.20zM1097.9 273.4h2.20V274.7h-2.20zM1101.6 272.1h2.20V273.4h-2.20zM1105.2 246.0h2.20V272.7h-2.20zM1108.9 231.7h2.20V246.0h-2.20zM1116.2 225.2h2.20V244.7h-2.20zM1123.5 228.4h2.20V229.7h-2.20zM1127.1 221.9h2.20V229.1h-2.20zM1134.4 231.7h2.20V232.6h-2.20zM1141.7 223.2h2.20V233.6h-2.20zM1149.0 221.9h2.20V229.1h-2.20zM1152.7 220.6h2.20V223.2h-2.20zM1156.3 220.4h2.20V221.7h-2.20zM1160.0 219.3h2.20V220.4h-2.20zM1163.6 219.1h2.20V220.0h-2.20zM1167.3 217.4h2.20V219.3h-2.20zM1174.6 213.5h2.20V218.0h-2.20zM1178.3 211.8h2.20V215.1h-2.20zM1185.6 211.1h2.20V212.4h-2.20zM1192.9 209.2h2.20V217.0h-2.20zM1196.5 200.7h2.20V209.8h-2.20zM1200.2 201.0h2.20V202.0h-2.20zM1207.5 202.0h2.20V205.3h-2.20zM1229.4 204.6h2.20V209.2h-2.20zM1233.0 197.5h2.20V205.3h-2.20zM1236.7 195.5h2.20V198.1h-2.20zM1240.3 191.0h2.20V195.5h-2.20zM1244.0 183.8h2.20V191.6h-2.20zM1247.7 180.5h2.20V184.5h-2.20zM1255.0 179.9h2.20V181.8h-2.20zM1265.9 181.2h2.20V187.1h-2.20zM1269.6 179.2h2.20V181.2h-2.20zM1273.2 108.3h2.20V183.8h-2.20zM1280.5 113.3h2.20V130.2h-2.20zM1287.8 117.8h2.20V132.0h-2.20zM1295.1 129.2h2.20V130.1h-2.20zM1313.4 143.8h2.20V147.9h-2.20zM1317.0 132.0h2.20V143.8h-2.20zM1324.4 133.8h2.20V140.2h-2.20zM1328.0 133.8h2.20V136.1h-2.20zM1339.0 134.3h2.20V137.0h-2.20zM1342.6 132.9h2.20V133.8h-2.20zM1349.9 121.9h2.20V132.9h-2.20zM1353.6 118.8h2.20V121.9h-2.20zM1364.5 137.0h2.20V138.1h-2.20zM1371.8 144.7h2.20V145.6h-2.20zM1375.5 143.8h2.20V144.7h-2.20zM1379.1 142.5h2.20V143.4h-2.20zM1382.8 138.8h2.20V142.9h-2.20zM1386.4 137.1h2.20V140.0h-2.20zM1390.1 135.1h2.20V138.0h-2.20zM1397.4 133.5h2.20V136.7h-2.20zM1408.4 132.7h2.20V142.0h-2.20zM1412.0 112.4h2.20V133.1h-2.20zM1415.7 104.2h2.20V113.2h-2.20zM1419.3 88.8h2.20V104.7h-2.20zM1423.0 88.4h2.20V89.3h-2.20zM1426.6 83.1h2.20V88.4h-2.20zM1430.3 74.3h2.20V83.1h-2.20zM1433.9 67.8h2.20V74.3h-2.20zM1437.6 67.0h2.20V68.2h-2.20zM1448.5 63.3h2.20V78.4h-2.20zM1455.8 47.5h2.20V68.6h-2.20zM1459.5 37.3h2.20V43.8h-2.20zM1463.2 30.0h2.20V38.2h-2.20zM1474.1 35.7h2.20V37.3h-2.20zM1477.8 33.3h2.20V36.9h-2.20zM1485.1 30.8h2.20V35.3h-2.20zM1492.4 30.8h2.20V36.5h-2.20z"/>
</g>
<clipPath id="cp"><rect x="3" y="548" width="1491.2" height="270"/></clipPath>
<g clip-path="url(#cp)">
<path fill="#00ffff" d="M30.6 615.5l4.8 -6.0 4.8 6.0 -4.8 6.0zM34.2 615.5l4.8 -6.0 4.8 6.0 -4.8 6.0zM37.9 615.5l4.8 -6.0 4.8 6.0 -4.8 6.0zM41.5 615.5l4.8 -6.0 4.8 6.0 -4.8 6.0zM45.2 615.5l4.8 -6.0 4.8 6.0 -4.8 6.0zM48.8 615.5l4.8 -6.0 4.8 6.0 -4.8 6.0zM52.5 615.5l4.8 -6.0 4.8 6.0 -4.8 6.0zM56.1 615.5l4.8 -6.0 4.8 6.0 -4.8 6.0zM59.8 615.5l4.8 -6.0 4.8 6.0 -4.8 6.0zM63.4 615.5l4.8 -6.0 4.8 6.0 -4.8 6.0zM67.1 615.5l4.8 -6.0 4.8 6.0 -4.8 6.0zM70.8 615.5l4.8 -6.0 4.8 6.0 -4.8 6.0zM74.4 615.5l4.8 -6.0 4.8 6.0 -4.8 6.0zM78.1 615.5l4.8 -6.0 4.8 6.0 -4.8 6.0zM81.7 615.5l4.8 -6.0 4.8 6.0 -4.8 6.0zM85.4 615.5l4.8 -6.0 4.8 6.0 -4.8 6.0zM89.0 615.5l4.8 -6.0 4.8 6.0 -4.8 6.0zM92.7 615.5l4.8 -6.0 4.8 6.0 -4.8 6.0zM96.3 615.5l4.8 -6.0 4.8 6.0 -4.8 6.0zM100.0 615.5l4.8 -6.0 4.8 6.0 -4.8 6.0zM103.6 615.5l4.8 -6.0 4.8 6.0 -4.8 6.0zM107.3 615.5l4.8 -6.0 4.8 6.0 -4.8 6.0zM110.9 615.5l4.8 -6.0 4.8 6.0 -4.8 6.0zM114.6 615.5l4.8 -6.0 4.8 6.0 -4.8 6.0zM118.2 615.5l4.8 -6.0 4.8 6.0 -4.8 6.0zM121.9 615.5l4.8 -6.0 4.8 6.0 -4.8 6.0zM125.5 615.5l4.8 -6.0 4.8 6.0 -4.8 6.0zM129.2 615.5l4.8 -6.0 4.8 6.0 -4.8 6.0zM132.8 615.5l4.8 -6.0 4.8 6.0 -4.8 6.0zM136.5 615.5l4.8 -6.0 4.8 6.0 -4.8 6.0zM140.1 615.5l4.8 -6.0 4.8 6.0 -4.8 6.0zM143.8 615.5l4.8 -6.0 4.8 6.0 -4.8 6.0zM147.5 615.5l4.8 -6.0 4.8 6.0 -4.8 6.0zM151.1 615.5l4.8 -6.0 4.8 6.0 -4.8 6.0zM154.8 615.5l4.8 -6.0 4.8 6.0 -4.8 6.0zM158.4 615.5l4.8 -6.0 4.8 6.0 -4.8 6.0zM162.1 615.5l4.8 -6.0 4.8 6.0 -4.8 6.0zM184.0 615.5l4.8 -6.0 4.8 6.0 -4.8 6.0zM187.6 615.5l4.8 -6.0 4.8 6.0 -4.8 6.0zM191.3 615.5l4.8 -6.0 4.8 6.0 -4.8 6.0zM194.9 615.5l4.8 -6.0 4.8 6.0 -4.8 6.0zM198.6 615.5l4.8 -6.0 4.8 6.0 -4.8 6.0zM202.2 615.5l4.8 -6.0 4.8 6.0 -4.8 6.0zM205.9 615.5l4.8 -6.0 4.8 6.0 -4.8 6.0zM209.5 615.5l4.8 -6.0 4.8 6.0 -4.8 6.0zM213.2 615.5l4.8 -6.0 4.8 6.0 -4.8 6.0zM216.8 615.5l4.8 -6.0 4.8 6.0 -4.8 6.0zM220.5 615.5l4.8 -6.0 4.8 6.0 -4.8 6.0zM224.2 615.5l4.8 -6.0 4.8 6.0 -4.8 6.0zM227.8 615.5l4.8 -6.0 4.8 6.0 -4.8 6.0zM231.5 615.5l4.8 -6.0 4.8 6.0 -4.8 6.0zM235.1 615.5l4.8 -6.0 4.8 6.0 -4.8 6.0zM238.8 615.5l4.8 -6.0 4.8 6.0 -4.8 6.0zM242.4 615.5l4.8 -6.0 4.8 6.0 -4.8 6.0zM246.1 615.5l4.8 -6.0 4.8 6.0 -4.8 6.0zM249.7 615.5l4.8 -6.0 4.8 6.0 -4.8 6.0zM289.9 615.5l4.8 -6.0 4.8 6.0 -4.8 6.0zM293.6 615.5l4.8 -6.0 4.8 6.0 -4.8 6.0zM297.2 615.5l4.8 -6.0 4.8 6.0 -4.8 6.0zM300.9 615.5l4.8 -6.0 4.8 6.0 -4.8 6.0zM304.5 615.5l4.8 -6.0 4.8 6.0 -4.8 6.0zM308.2 615.5l4.8 -6.0 4.8 6.0 -4.8 6.0zM311.8 615.5l4.8 -6.0 4.8 6.0 -4.8 6.0zM315.5 615.5l4.8 -6.0 4.8 6.0 -4.8 6.0zM319.1 615.5l4.8 -6.0 4.8 6.0 -4.8 6.0zM322.8 615.5l4.8 -6.0 4.8 6.0 -4.8 6.0zM359.3 615.5l4.8 -6.0 4.8 6.0 -4.8 6.0zM362.9 615.5l4.8 -6.0 4.8 6.0 -4.8 6.0zM366.6 615.5l4.8 -6.0 4.8 6.0 -4.8 6.0zM370.3 615.5l4.8 -6.0 4.8 6.0 -4.8 6.0zM373.9 615.5l4.8 -6.0 4.8 6.0 -4.8 6.0zM377.6 615.5l4.8 -6.0 4.8 6.0 -4.8 6.0zM381.2 615.5l4.8 -6.0 4.8 6.0 -4.8 6.0zM384.9 615.5l4.8 -6.0 4.8 6.0 -4.8 6.0zM388.5 615.5l4.8 -6.0 4.8 6.0 -4.8 6.0zM392.2 615.5l4.8 -6.0 4.8 6.0 -4.8 6.0zM395.8 615.5l4.8 -6.0 4.8 6.0 -4.8 6.0zM399.5 615.5l4.8 -6.0 4.8 6.0 -4.8 6.0zM403.1 615.5l4.8 -6.0 4.8 6.0 -4.8 6.0zM406.8 615.5l4.8 -6.0 4.8 6.0 -4.8 6.0zM410.4 615.5l4.8 -6.0 4.8 6.0 -4.8 6.0zM414.1 615.5l4.8 -6.0 4.8 6.0 -4.8 6.0zM417.7 615.5l4.8 -6.0 4.8 6.0 -4.8 6.0zM421.4 615.5l4.8 -6.0 4.8 6.0 -4.8 6.0zM425.0 615.5l4.8 -6.0 4.8 6.0 -4.8 6.0zM428.7 615.5l4.8 -6.0 4.8 6.0 -4.8 6.0zM432.3 615.5l4.8 -6.0 4.8 6.0 -4.8 6.0zM436.0 615.5l4.8 -6.0 4.8 6.0 -4.8 6.0zM439.7 615.5l4.8 -6.0 4.8 6.0 -4.8 6.0zM443.3 615.5l4.8 -6.0 4.8 6.0 -4.8 6.0zM447.0 615.5l4.8 -6.0 4.8 6.0 -4.8 6.0zM450.6 615.5l4.8 -6.0 4.8 6.0 -4.8 6.0zM454.3 615.5l4.8 -6.0 4.8 6.0 -4.8 6.0zM457.9 615.5l4.8 -6.0 4.8 6.0 -4.8 6.0zM461.6 615.5l4.8 -6.0 4.8 6.0 -4.8 6.0zM465.2 615.5l4.8 -6.0 4.8 6.0 -4.8 6.0zM483.5 615.5l4.8 -6.0 4.8 6.0 -4.8 6.0zM487.1 615.5l4.8 -6.0 4.8 6.0 -4.8 6.0zM490.8 615.5l4.8 -6.0 4.8 6.0 -4.8 6.0zM494.4 615.5l4.8 -6.0 4.8 6.0 -4.8 6.0zM498.1 615.5l4.8 -6.0 4.8 6.0 -4.8 6.0zM501.7 615.5l4.8 -6.0 4.8 6.0 -4.8 6.0zM505.4 615.5l4.8 -6.0 4.8 6.0 -4.8 6.0zM509.0 615.5l4.8 -6.0 4.8 6.0 -4.8 6.0zM512.7 615.5l4.8 -6.0 4.8 6.0 -4.8 6.0zM516.4 615.5l4.8 -6.0 4.8 6.0 -4.8 6.0zM520.0 615.5l4.8 -6.0 4.8 6.0 -4.8 6.0zM523.7 615.5l4.8 -6.0 4.8 6.0 -4.8 6.0zM527.3 615.5l4.8 -6.0 4.8 6.0 -4.8 6.0zM531.0 615.5l4.8 -6.0 4.8 6.0 -4.8 6.0zM534.6 615.5l4.8 -6.0 4.8 6.0 -4.8 6.0zM538.3 615.5l4.8 -6.0 4.8 6.0 -4.8 6.0zM541.9 615.5l4.8 -6.0 4.8 6.0 -4.8 6.0zM545.6 615.5l4.8 -6.0 4.8 6.0 -4.8 6.0zM549.2 615.5l4.8 -6.0 4.8 6.0 -4.8 6.0zM552.9 615.5l4.8 -6.0 4.8 6.0 -4.8 6.0zM556.5 615.5l4.8 -6.0 4.8 6.0 -4.8 6.0zM560.2 615.5l4.8 -6.0 4.8 6.0 -4.8 6.0zM563.8 615.5l4.8 -6.0 4.8 6.0 -4.8 6.0zM567.5 615.5l4.8 -6.0 4.8 6.0 -4.8 6.0zM571.1 615.5l4.8 -6.0 4.8 6.0 -4.8 6.0zM574.8 615.5l4.8 -6.0 4.8 6.0 -4.8 6.0zM578.4 615.5l4.8 -6.0 4.8 6.0 -4.8 6.0zM582.1 615.5l4.8 -6.0 4.8 6.0 -4.8 6.0zM585.8 615.5l4.8 -6.0 4.8 6.0 -4.8 6.0zM589.4 615.5l4.8 -6.0 4.8 6.0 -4.8 6.0zM593.1 615.5l4.8 -6.0 4.8 6.0 -4.8 6.0zM596.7 615.5l4.8 -6.0 4.8 6.0 -4.8 6.0zM600.4 615.5l4.8 -6.0 4.8 6.0 -4.8 6.0zM604.0 615.5l4.8 -6.0 4.8 6.0 -4.8 6.0zM607.7 615.5l4.8 -6.0 4.8 6.0 -4.8 6.0zM611.3 615.5l4.8 -6.0 4.8 6.0 -4.8 6.0zM615.0 615.5l4.8 -6.0 4.8 6.0 -4.8 6.0zM618.6 615.5l4.8 -6.0 4.8 6.0 -4.8 6.0zM622.3 615.5l4.8 -6.0 4.8 6.0 -4.8 6.0zM625.9 615.5l4.8 -6.0 4.8 6.0 -4.8 6.0zM677.1 615.5l4.8 -6.0 4.8 6.0 -4.8 6.0zM680.7 615.5l4.8 -6.0 4.8 6.0 -4.8 6.0zM684.4 615.5l4.8 -6.0 4.8 6.0 -4.8 6.0zM688.0 615.5l4.8 -6.0 4.8 6.0 -4.8 6.0zM691.7 615.5l4.8 -6.0 4.8 6.0 -4.8 6.0zM695.3 615.5l4.8 -6.0 4.8 6.0 -4.8 6.0zM724.5 615.5l4.8 -6.0 4.8 6.0 -4.8 6.0zM728.2 615.5l4.8 -6.0 4.8 6.0 -4.8 6.0zM731.9 615.5l4.8 -6.0 4.8 6.0 -4.8 6.0zM735.5 615.5l4.8 -6.0 4.8 6.0 -4.8 6.0zM739.2 615.5l4.8 -6.0 4.8 6.0 -4.8 6.0zM742.8 615.5l4.8 -6.0 4.8 6.0 -4.8 6.0zM746.5 615.5l4.8 -6.0 4.8 6.0 -4.8 6.0zM750.1 615.5l4.8 -6.0 4.8 6.0 -4.8 6.0zM753.8 615.5l4.8 -6.0 4.8 6.0 -4.8 6.0zM757.4 615.5l4.8 -6.0 4.8 6.0 -4.8 6.0zM761.1 615.5l4.8 -6.0 4.8 6.0 -4.8 6.0zM826.8 615.5l4.8 -6.0 4.8 6.0 -4.8 6.0zM830.5 615.5l4.8 -6.0 4.8 6.0 -4.8 6.0zM834.1 615.5l4.8 -6.0 4.8 6.0 -4.8 6.0zM837.8 615.5l4.8 -6.0 4.8 6.0 -4.8 6.0zM903.5 615.5l4.8 -6.0 4.8 6.0 -4.8 6.0zM907.2 615.5l4.8 -6.0 4.8 6.0 -4.8 6.0zM910.8 615.5l4.8 -6.0 4.8 6.0 -4.8 6.0zM914.5 615.5l4.8 -6.0 4.8 6.0 -4.8 6.0zM918.1 615.5l4.8 -6.0 4.8 6.0 -4.8 6.0zM921.8 615.5l4.8 -6.0 4.8 6.0 -4.8 6.0zM925.4 615.5l4.8 -6.0 4.8 6.0 -4.8 6.0zM929.1 615.5l4.8 -6.0 4.8 6.0 -4.8 6.0zM932.7 615.5l4.8 -6.0 4.8 6.0 -4.8 6.0zM936.4 615.5l4.8 -6.0 4.8 6.0 -4.8 6.0zM1027.7 615.5l4.8 -6.0 4.8 6.0 -4.8 6.0zM1031.4 615.5l4.8 -6.0 4.8 6.0 -4.8 6.0zM1035.0 615.5l4.8 -6.0 4.8 6.0 -4.8 6.0zM1038.7 615.5l4.8 -6.0 4.8 6.0 -4.8 6.0zM1042.3 615.5l4.8 -6.0 4.8 6.0 -4.8 6.0zM1046.0 615.5l4.8 -6.0 4.8 6.0 -4.8 6.0zM1049.6 615.5l4.8 -6.0 4.8 6.0 -4.8 6.0zM1053.3 615.5l4.8 -6.0 4.8 6.0 -4.8 6.0zM1056.9 615.5l4.8 -6.0 4.8 6.0 -4.8 6.0zM1060.6 615.5l4.8 -6.0 4.8 6.0 -4.8 6.0zM1064.2 615.5l4.8 -6.0 4.8 6.0 -4.8 6.0zM1067.9 615.5l4.8 -6.0 4.8 6.0 -4.8 6.0zM1071.5 615.5l4.8 -6.0 4.8 6.0 -4.8 6.0zM1075.2 615.5l4.8 -6.0 4.8 6.0 -4.8 6.0zM1078.8 615.5l4.8 -6.0 4.8 6.0 -4.8 6.0zM1082.5 615.5l4.8 -6.0 4.8 6.0 -4.8 6.0zM1086.1 615.5l4.8 -6.0 4.8 6.0 -4.8 6.0zM1089.8 615.5l4.8 -6.0 4.8 6.0 -4.8 6.0zM1093.5 615.5l4.8 -6.0 4.8 6.0 -4.8 6.0zM1097.1 615.5l4.8 -6.0 4.8 6.0 -4.8 6.0zM1100.8 615.5l4.8 -6.0 4.8 6.0 -4.8 6.0zM1104.4 615.5l4.8 -6.0 4.8 6.0 -4.8 6.0zM1108.1 615.5l4.8 -6.0 4.8 6.0 -4.8 6.0zM1111.7 615.5l4.8 -6.0 4.8 6.0 -4.8 6.0zM1115.4 615.5l4.8 -6.0 4.8 6.0 -4.8 6.0zM1119.0 615.5l4.8 -6.0 4.8 6.0 -4.8 6.0zM1122.7 615.5l4.8 -6.0 4.8 6.0 -4.8 6.0zM1126.3 615.5l4.8 -6.0 4.8 6.0 -4.8 6.0zM1130.0 615.5l4.8 -6.0 4.8 6.0 -4.8 6.0zM1133.6 615.5l4.8 -6.0 4.8 6.0 -4.8 6.0zM1137.3 615.5l4.8 -6.0 4.8 6.0 -4.8 6.0zM1140.9 615.5l4.8 -6.0 4.8 6.0 -4.8 6.0zM1144.6 615.5l4.8 -6.0 4.8 6.0 -4.8 6.0zM1148.2 615.5l4.8 -6.0 4.8 6.0 -4.8 6.0zM1151.9 615.5l4.8 -6.0 4.8 6.0 -4.8 6.0zM1155.5 615.5l4.8 -6.0 4.8 6.0 -4.8 6.0zM1159.2 615.5l4.8 -6.0 4.8 6.0 -4.8 6.0zM1162.8 615.5l4.8 -6.0 4.8 6.0 -4.8 6.0zM1166.5 615.5l4.8 -6.0 4.8 6.0 -4.8 6.0zM1170.2 615.5l4.8 -6.0 4.8 6.0 -4.8 6.0zM1173.8 615.5l4.8 -6.0 4.8 6.0 -4.8 6.0zM1177.5 615.5l4.8 -6.0 4.8 6.0 -4.8 6.0zM1181.1 615.5l4.8 -6.0 4.8 6.0 -4.8 6.0zM1184.8 615.5l4.8 -6.0 4.8 6.0 -4.8 6.0zM1188.4 615.5l4.8 -6.0 4.8 6.0 -4.8 6.0zM1192.1 615.5l4.8 -6.0 4.8 6.0 -4.8 6.0zM1195.7 615.5l4.8 -6.0 4.8 6.0 -4.8 6.0zM1199.4 615.5l4.8 -6.0 4.8 6.0 -4.8 6.0zM1203.0 615.5l4.8 -6.0 4.8 6.0 -4.8 6.0zM1206.7 615.5l4.8 -6.0 4.8 6.0 -4.8 6.0zM1210.3 615.5l4.8 -6.0 4.8 6.0 -4.8 6.0zM1214.0 615.5l4.8 -6.0 4.8 6.0 -4.8 6.0zM1217.6 615.5l4.8 -6.0 4.8 6.0 -4.8 6.0zM1221.3 615.5l4.8 -6.0 4.8 6.0 -4.8 6.0zM1224.9 615.5l4.8 -6.0 4.8 6.0 -4.8 6.0zM1228.6 615.5l4.8 -6.0 4.8 6.0 -4.8 6.0zM1232.2 615.5l4.8 -6.0 4.8 6.0 -4.8 6.0zM1235.9 615.5l4.8 -6.0 4.8 6.0 -4.8 6.0zM1239.5 615.5l4.8 -6.0 4.8 6.0 -4.8 6.0zM1243.2 615.5l4.8 -6.0 4.8 6.0 -4.8 6.0zM1246.9 615.5l4.8 -6.0 4.8 6.0 -4.8 6.0zM1250.5 615.5l4.8 -6.0 4.8 6.0 -4.8 6.0zM1254.2 615.5l4.8 -6.0 4.8 6.0 -4.8 6.0zM1257.8 615.5l4.8 -6.0 4.8 6.0 -4.8 6.0zM1261.5 615.5l4.8 -6.0 4.8 6.0 -4.8 6.0zM1265.1 615.5l4.8 -6.0 4.8 6.0 -4.8 6.0zM1268.8 615.5l4.8 -6.0 4.8 6.0 -4.8 6.0zM1272.4 615.5l4.8 -6.0 4.8 6.0 -4.8 6.0zM1276.1 615.5l4.8 -6.0 4.8 6.0 -4.8 6.0zM1279.7 615.5l4.8 -6.0 4.8 6.0 -4.8 6.0zM1283.4 615.5l4.8 -6.0 4.8 6.0 -4.8 6.0zM1287.0 615.5l4.8 -6.0 4.8 6.0 -4.8 6.0zM1290.7 615.5l4.8 -6.0 4.8 6.0 -4.8 6.0zM1294.3 615.5l4.8 -6.0 4.8 6.0 -4.8 6.0zM1298.0 615.5l4.8 -6.0 4.8 6.0 -4.8 6.0zM1301.6 615.5l4.8 -6.0 4.8 6.0 -4.8 6.0zM1305.3 615.5l4.8 -6.0 4.8 6.0 -4.8 6.0zM1308.9 615.5l4.8 -6.0 4.8 6.0 -4.8 6.0zM1312.6 615.5l4.8 -6.0 4.8 6.0 -4.8 6.0zM1316.3 615.5l4.8 -6.0 4.8 6.0 -4.8 6.0zM1319.9 615.5l4.8 -6.0 4.8 6.0 -4.8 6.0zM1323.6 615.5l4.8 -6.0 4.8 6.0 -4.8 6.0zM1327.2 615.5l4.8 -6.0 4.8 6.0 -4.8 6.0zM1330.9 615.5l4.8 -6.0 4.8 6.0 -4.8 6.0zM1334.5 615.5l4.8 -6.0 4.8 6.0 -4.8 6.0zM1338.2 615.5l4.8 -6.0 4.8 6.0 -4.8 6.0zM1341.8 615.5l4.8 -6.0 4.8 6.0 -4.8 6.0zM1345.5 615.5l4.8 -6.0 4.8 6.0 -4.8 6.0zM1349.1 615.5l4.8 -6.0 4.8 6.0 -4.8 6.0zM1352.8 615.5l4.8 -6.0 4.8 6.0 -4.8 6.0zM1356.4 615.5l4.8 -6.0 4.8 6.0 -4.8 6.0zM1360.1 615.5l4.8 -6.0 4.8 6.0 -4.8 6.0zM1363.7 615.5l4.8 -6.0 4.8 6.0 -4.8 6.0zM1393.0 615.5l4.8 -6.0 4.8 6.0 -4.8 6.0zM1396.6 615.5l4.8 -6.0 4.8 6.0 -4.8 6.0zM1400.3 615.5l4.8 -6.0 4.8 6.0 -4.8 6.0zM1403.9 615.5l4.8 -6.0 4.8 6.0 -4.8 6.0zM1407.6 615.5l4.8 -6.0 4.8 6.0 -4.8 6.0zM1411.2 615.5l4.8 -6.0 4.8 6.0 -4.8 6.0zM1414.9 615.5l4.8 -6.0 4.8 6.0 -4.8 6.0zM1418.5 615.5l4.8 -6.0 4.8 6.0 -4.8 6.0zM1422.2 615.5l4.8 -6.0 4.8 6.0 -4.8 6.0zM1425.8 615.5l4.8 -6.0 4.8 6.0 -4.8 6.0zM1429.5 615.5l4.8 -6.0 4.8 6.0 -4.8 6.0zM1433.1 615.5l4.8 -6.0 4.8 6.0 -4.8 6.0zM1436.8 615.5l4.8 -6.0 4.8 6.0 -4.8 6.0zM1440.4 615.5l4.8 -6.0 4.8 6.0 -4.8 6.0zM1444.1 615.5l4.8 -6.0 4.8 6.0 -4.8 6.0zM1447.7 615.5l4.8 -6.0 4.8 6.0 -4.8 6.0zM1451.4 615.5l4.8 -6.0 4.8 6.0 -4.8 6.0zM1455.0 615.5l4.8 -6.0 4.8 6.0 -4.8 6.0zM1458.7 615.5l4.8 -6.0 4.8 6.0 -4.8 6.0zM1462.4 615.5l4.8 -6.0 4.8 6.0 -4.8 6.0zM1466.0 615.5l4.8 -6.0 4.8 6.0 -4.8 6.0zM1469.7 615.5l4.8 -6.0 4.8 6.0 -4.8 6.0zM1473.3 615.5l4.8 -6.0 4.8 6.0 -4.8 6.0zM1477.0 615.5l4.8 -6.0 4.8 6.0 -4.8 6.0zM1480.6 615.5l4.8 -6.0 4.8 6.0 -4.8 6.0zM1484.3 615.5l4.8 -6.0 4.8 6.0 -4.8 6.0zM1487.9 615.5l4.8 -6.0 4.8 6.0 -4.8 6.0zM1491.6 615.5l4.8 -6.0 4.8 6.0 -4.8 6.0z"/>
<path fill="#0000cd" d="M-2.3 615.5l4.8 -6.0 4.8 6.0 -4.8 6.0zM1.4 615.5l4.8 -6.0 4.8 6.0 -4.8 6.0zM5.0 615.5l4.8 -6.0 4.8 6.0 -4.8 6.0zM8.7 615.5l4.8 -6.0 4.8 6.0 -4.8 6.0zM12.3 615.5l4.8 -6.0 4.8 6.0 -4.8 6.0zM16.0 615.5l4.8 -6.0 4.8 6.0 -4.8 6.0zM19.6 615.5l4.8 -6.0 4.8 6.0 -4.8 6.0zM23.3 615.5l4.8 -6.0 4.8 6.0 -4.8 6.0zM26.9 615.5l4.8 -6.0 4.8 6.0 -4.8 6.0zM165.7 615.5l4.8 -6.0 4.8 6.0 -4.8 6.0zM169.4 615.5l4.8 -6.0 4.8 6.0 -4.8 6.0zM173.0 615.5l4.8 -6.0 4.8 6.0 -4.8 6.0zM176.7 615.5l4.8 -6.0 4.8 6.0 -4.8 6.0zM180.3 615.5l4.8 -6.0 4.8 6.0 -4.8 6.0zM253.4 615.5l4.8 -6.0 4.8 6.0 -4.8 6.0zM257.0 615.5l4.8 -6.0 4.8 6.0 -4.8 6.0zM260.7 615.5l4.8 -6.0 4.8 6.0 -4.8 6.0zM264.3 615.5l4.8 -6.0 4.8 6.0 -4.8 6.0zM268.0 615.5l4.8 -6.0 4.8 6.0 -4.8 6.0zM271.6 615.5l4.8 -6.0 4.8 6.0 -4.8 6.0zM275.3 615.5l4.8 -6.0 4.8 6.0 -4.8 6.0zM278.9 615.5l4.8 -6.0 4.8 6.0 -4.8 6.0zM282.6 615.5l4.8 -6.0 4.8 6.0 -4.8 6.0zM286.2 615.5l4.8 -6.0 4.8 6.0 -4.8 6.0zM326.4 615.5l4.8 -6.0 4.8 6.0 -4.8 6.0zM330.1 615.5l4.8 -6.0 4.8 6.0 -4.8 6.0zM333.7 615.5l4.8 -6.0 4.8 6.0 -4.8 6.0zM337.4 615.5l4.8 -6.0 4.8 6.0 -4.8 6.0zM341.0 615.5l4.8 -6.0 4.8 6.0 -4.8 6.0zM344.7 615.5l4.8 -6.0 4.8 6.0 -4.8 6.0zM348.3 615.5l4.8 -6.0 4.8 6.0 -4.8 6.0zM352.0 615.5l4.8 -6.0 4.8 6.0 -4.8 6.0zM355.6 615.5l4.8 -6.0 4.8 6.0 -4.8 6.0zM468.9 615.5l4.8 -6.0 4.8 6.0 -4.8 6.0zM472.5 615.5l4.8 -6.0 4.8 6.0 -4.8 6.0zM476.2 615.5l4.8 -6.0 4.8 6.0 -4.8 6.0zM479.8 615.5l4.8 -6.0 4.8 6.0 -4.8 6.0zM629.6 615.5l4.8 -6.0 4.8 6.0 -4.8 6.0zM633.2 615.5l4.8 -6.0 4.8 6.0 -4.8 6.0zM636.9 615.5l4.8 -6.0 4.8 6.0 -4.8 6.0zM640.5 615.5l4.8 -6.0 4.8 6.0 -4.8 6.0zM644.2 615.5l4.8 -6.0 4.8 6.0 -4.8 6.0zM647.8 615.5l4.8 -6.0 4.8 6.0 -4.8 6.0zM651.5 615.5l4.8 -6.0 4.8 6.0 -4.8 6.0zM655.1 615.5l4.8 -6.0 4.8 6.0 -4.8 6.0zM658.8 615.5l4.8 -6.0 4.8 6.0 -4.8 6.0zM662.5 615.5l4.8 -6.0 4.8 6.0 -4.8 6.0zM666.1 615.5l4.8 -6.0 4.8 6.0 -4.8 6.0zM669.8 615.5l4.8 -6.0 4.8 6.0 -4.8 6.0zM673.4 615.5l4.8 -6.0 4.8 6.0 -4.8 6.0zM699.0 615.5l4.8 -6.0 4.8 6.0 -4.8 6.0zM702.6 615.5l4.8 -6.0 4.8 6.0 -4.8 6.0zM706.3 615.5l4.8 -6.0 4.8 6.0 -4.8 6.0zM709.9 615.5l4.8 -6.0 4.8 6.0 -4.8 6.0zM713.6 615.5l4.8 -6.0 4.8 6.0 -4.8 6.0zM717.2 615.5l4.8 -6.0 4.8 6.0 -4.8 6.0zM720.9 615.5l4.8 -6.0 4.8 6.0 -4.8 6.0zM764.7 615.5l4.8 -6.0 4.8 6.0 -4.8 6.0zM768.4 615.5l4.8 -6.0 4.8 6.0 -4.8 6.0zM772.0 615.5l4.8 -6.0 4.8 6.0 -4.8 6.0zM775.7 615.5l4.8 -6.0 4.8 6.0 -4.8 6.0zM779.3 615.5l4.8 -6.0 4.8 6.0 -4.8 6.0zM783.0 615.5l4.8 -6.0 4.8 6.0 -4.8 6.0zM786.6 615.5l4.8 -6.0 4.8 6.0 -4.8 6.0zM790.3 615.5l4.8 -6.0 4.8 6.0 -4.8 6.0zM793.9 615.5l4.8 -6.0 4.8 6.0 -4.8 6.0zM797.6 615.5l4.8 -6.0 4.8 6.0 -4.8 6.0zM801.2 615.5l4.8 -6.0 4.8 6.0 -4.8 6.0zM804.9 615.5l4.8 -6.0 4.8 6.0 -4.8 6.0zM808.6 615.5l4.8 -6.0 4.8 6.0 -4.8 6.0zM812.2 615.5l4.8 -6.0 4.8 6.0 -4.8 6.0zM815.9 615.5l4.8 -6.0 4.8 6.0 -4.8 6.0zM819.5 615.5l4.8 -6.0 4.8 6.0 -4.8 6.0zM823.2 615.5l4.8 -6.0 4.8 6.0 -4.8 6.0zM841.4 615.5l4.8 -6.0 4.8 6.0 -4.8 6.0zM845.1 615.5l4.8 -6.0 4.8 6.0 -4.8 6.0zM848.7 615.5l4.8 -6.0 4.8 6.0 -4.8 6.0zM852.4 615.5l4.8 -6.0 4.8 6.0 -4.8 6.0zM856.0 615.5l4.8 -6.0 4.8 6.0 -4.8 6.0zM859.7 615.5l4.8 -6.0 4.8 6.0 -4.8 6.0zM863.3 615.5l4.8 -6.0 4.8 6.0 -4.8 6.0zM867.0 615.5l4.8 -6.0 4.8 6.0 -4.8 6.0zM870.6 615.5l4.8 -6.0 4.8 6.0 -4.8 6.0zM874.3 615.5l4.8 -6.0 4.8 6.0 -4.8 6.0zM878.0 615.5l4.8 -6.0 4.8 6.0 -4.8 6.0zM881.6 615.5l4.8 -6.0 4.8 6.0 -4.8 6.0zM885.3 615.5l4.8 -6.0 4.8 6.0 -4.8 6.0zM888.9 615.5l4.8 -6.0 4.8 6.0 -4.8 6.0zM892.6 615.5l4.8 -6.0 4.8 6.0 -4.8 6.0zM896.2 615.5l4.8 -6.0 4.8 6.0 -4.8 6.0zM899.9 615.5l4.8 -6.0 4.8 6.0 -4.8 6.0zM940.0 615.5l4.8 -6.0 4.8 6.0 -4.8 6.0zM943.7 615.5l4.8 -6.0 4.8 6.0 -4.8 6.0zM947.4 615.5l4.8 -6.0 4.8 6.0 -4.8 6.0zM951.0 615.5l4.8 -6.0 4.8 6.0 -4.8 6.0zM954.7 615.5l4.8 -6.0 4.8 6.0 -4.8 6.0zM958.3 615.5l4.8 -6.0 4.8 6.0 -4.8 6.0zM962.0 615.5l4.8 -6.0 4.8 6.0 -4.8 6.0zM965.6 615.5l4.8 -6.0 4.8 6.0 -4.8 6.0zM969.3 615.5l4.8 -6.0 4.8 6.0 -4.8 6.0zM972.9 615.5l4.8 -6.0 4.8 6.0 -4.8 6.0zM976.6 615.5l4.8 -6.0 4.8 6.0 -4.8 6.0zM980.2 615.5l4.8 -6.0 4.8 6.0 -4.8 6.0zM983.9 615.5l4.8 -6.0 4.8 6.0 -4.8 6.0zM987.5 615.5l4.8 -6.0 4.8 6.0 -4.8 6.0zM991.2 615.5l4.8 -6.0 4.8 6.0 -4.8 6.0zM994.8 615.5l4.8 -6.0 4.8 6.0 -4.8 6.0zM998.5 615.5l4.8 -6.0 4.8 6.0 -4.8 6.0zM1002.1 615.5l4.8 -6.0 4.8 6.0 -4.8 6.0zM1005.8 615.5l4.8 -6.0 4.8 6.0 -4.8 6.0zM1009.4 615.5l4.8 -6.0 4.8 6.0 -4.8 6.0zM1013.1 615.5l4.8 -6.0 4.8 6.0 -4.8 6.0zM1016.7 615.5l4.8 -6.0 4.8 6.0 -4.8 6.0zM1020.4 615.5l4.8 -6.0 4.8 6.0 -4.8 6.0zM1024.1 615.5l4.8 -6.0 4.8 6.0 -4.8 6.0zM1367.4 615.5l4.8 -6.0 4.8 6.0 -4.8 6.0zM1371.0 615.5l4.8 -6.0 4.8 6.0 -4.8 6.0zM1374.7 615.5l4.8 -6.0 4.8 6.0 -4.8 6.0zM1378.3 615.5l4.8 -6.0 4.8 6.0 -4.8 6.0zM1382.0 615.5l4.8 -6.0 4.8 6.0 -4.8 6.0zM1385.7 615.5l4.8 -6.0 4.8 6.0 -4.8 6.0zM1389.3 615.5l4.8 -6.0 4.8 6.0 -4.8 6.0z"/>
<path fill="#00ffff" d="M30.6 683.0l4.8 -6.0 4.8 6.0 -4.8 6.0zM34.2 683.0l4.8 -6.0 4.8 6.0 -4.8 6.0zM37.9 683.0l4.8 -6.0 4.8 6.0 -4.8 6.0zM41.5 683.0l4.8 -6.0 4.8 6.0 -4.8 6.0zM45.2 683.0l4.8 -6.0 4.8 6.0 -4.8 6.0zM48.8 683.0l4.8 -6.0 4.8 6.0 -4.8 6.0zM52.5 683.0l4.8 -6.0 4.8 6.0 -4.8 6.0zM56.1 683.0l4.8 -6.0 4.8 6.0 -4.8 6.0zM59.8 683.0l4.8 -6.0 4.8 6.0 -4.8 6.0zM63.4 683.0l4.8 -6.0 4.8 6.0 -4.8 6.0zM67.1 683.0l4.8 -6.0 4.8 6.0 -4.8 6.0zM70.8 683.0l4.8 -6.0 4.8 6.0 -4.8 6.0zM74.4 683.0l4.8 -6.0 4.8 6.0 -4.8 6.0zM78.1 683.0l4.8 -6.0 4.8 6.0 -4.8 6.0zM81.7 683.0l4.8 -6.0 4.8 6.0 -4.8 6.0zM85.4 683.0l4.8 -6.0 4.8 6.0 -4.8 6.0zM89.0 683.0l4.8 -6.0 4.8 6.0 -4.8 6.0zM92.7 683.0l4.8 -6.0 4.8 6.0 -4.8 6.0zM96.3 683.0l4.8 -6.0 4.8 6.0 -4.8 6.0zM100.0 683.0l4.8 -6.0 4.8 6.0 -4.8 6.0zM103.6 683.0l4.8 -6.0 4.8 6.0 -4.8 6.0zM107.3 683.0l4.8 -6.0 4.8 6.0 -4.8 6.0zM110.9 683.0l4.8 -6.0 4.8 6.0 -4.8 6.0zM114.6 683.0l4.8 -6.0 4.8 6.0 -4.8 6.0zM118.2 683.0l4.8 -6.0 4.8 6.0 -4.8 6.0zM121.9 683.0l4.8 -6.0 4.8 6.0 -4.8 6.0zM125.5 683.0l4.8 -6.0 4.8 6.0 -4.8 6.0zM129.2 683.0l4.8 -6.0 4.8 6.0 -4.8 6.0zM132.8 683.0l4.8 -6.0 4.8 6.0 -4.8 6.0zM136.5 683.0l4.8 -6.0 4.8 6.0 -4.8 6.0zM140.1 683.0l4.8 -6.0 4.8 6.0 -4.8 6.0zM143.8 683.0l4.8 -6.0 4.8 6.0 -4.8 6.0zM147.5 683.0l4.8 -6.0 4.8 6.0 -4.8 6.0zM151.1 683.0l4.8 -6.0 4.8 6.0 -4.8 6.0zM154.8 683.0l4.8 -6.0 4.8 6.0 -4.8 6.0zM158.4 683.0l4.8 -6.0 4.8 6.0 -4.8 6.0zM162.1 683.0l4.8 -6.0 4.8 6.0 -4.8 6.0zM198.6 683.0l4.8 -6.0 4.8 6.0 -4.8 6.0zM202.2 683.0l4.8 -6.0 4.8 6.0 -4.8 6.0zM205.9 683.0l4.8 -6.0 4.8 6.0 -4.8 6.0zM209.5 683.0l4.8 -6.0 4.8 6.0 -4.8 6.0zM213.2 683.0l4.8 -6.0 4.8 6.0 -4.8 6.0zM216.8 683.0l4.8 -6.0 4.8 6.0 -4.8 6.0zM220.5 683.0l4.8 -6.0 4.8 6.0 -4.8 6.0zM224.2 683.0l4.8 -6.0 4.8 6.0 -4.8 6.0zM227.8 683.0l4.8 -6.0 4.8 6.0 -4.8 6.0zM231.5 683.0l4.8 -6.0 4.8 6.0 -4.8 6.0zM235.1 683.0l4.8 -6.0 4.8 6.0 -4.8 6.0zM238.8 683.0l4.8 -6.0 4.8 6.0 -4.8 6.0zM242.4 683.0l4.8 -6.0 4.8 6.0 -4.8 6.0zM246.1 683.0l4.8 -6.0 4.8 6.0 -4.8 6.0zM249.7 683.0l4.8 -6.0 4.8 6.0 -4.8 6.0zM289.9 683.0l4.8 -6.0 4.8 6.0 -4.8 6.0zM293.6 683.0l4.8 -6.0 4.8 6.0 -4.8 6.0zM297.2 683.0l4.8 -6.0 4.8 6.0 -4.8 6.0zM300.9 683.0l4.8 -6.0 4.8 6.0 -4.8 6.0zM304.5 683.0l4.8 -6.0 4.8 6.0 -4.8 6.0zM308.2 683.0l4.8 -6.0 4.8 6.0 -4.8 6.0zM311.8 683.0l4.8 -6.0 4.8 6.0 -4.8 6.0zM315.5 683.0l4.8 -6.0 4.8 6.0 -4.8 6.0zM319.1 683.0l4.8 -6.0 4.8 6.0 -4.8 6.0zM322.8 683.0l4.8 -6.0 4.8 6.0 -4.8 6.0zM326.4 683.0l4.8 -6.0 4.8 6.0 -4.8 6.0zM330.1 683.0l4.8 -6.0 4.8 6.0 -4.8 6.0zM333.7 683.0l4.8 -6.0 4.8 6.0 -4.8 6.0zM359.3 683.0l4.8 -6.0 4.8 6.0 -4.8 6.0zM362.9 683.0l4.8 -6.0 4.8 6.0 -4.8 6.0zM366.6 683.0l4.8 -6.0 4.8 6.0 -4.8 6.0zM370.3 683.0l4.8 -6.0 4.8 6.0 -4.8 6.0zM373.9 683.0l4.8 -6.0 4.8 6.0 -4.8 6.0zM377.6 683.0l4.8 -6.0 4.8 6.0 -4.8 6.0zM381.2 683.0l4.8 -6.0 4.8 6.0 -4.8 6.0zM384.9 683.0l4.8 -6.0 4.8 6.0 -4.8 6.0zM388.5 683.0l4.8 -6.0 4.8 6.0 -4.8 6.0zM392.2 683.0l4.8 -6.0 4.8 6.0 -4.8 6.0zM395.8 683.0l4.8 -6.0 4.8 6.0 -4.8 6.0zM399.5 683.0l4.8 -6.0 4.8 6.0 -4.8 6.0zM403.1 683.0l4.8 -6.0 4.8 6.0 -4.8 6.0zM406.8 683.0l4.8 -6.0 4.8 6.0 -4.8 6.0zM410.4 683.0l4.8 -6.0 4.8 6.0 -4.8 6.0zM414.1 683.0l4.8 -6.0 4.8 6.0 -4.8 6.0zM417.7 683.0l4.8 -6.0 4.8 6.0 -4.8 6.0zM421.4 683.0l4.8 -6.0 4.8 6.0 -4.8 6.0zM425.0 683.0l4.8 -6.0 4.8 6.0 -4.8 6.0zM428.7 683.0l4.8 -6.0 4.8 6.0 -4.8 6.0zM432.3 683.0l4.8 -6.0 4.8 6.0 -4.8 6.0zM436.0 683.0l4.8 -6.0 4.8 6.0 -4.8 6.0zM439.7 683.0l4.8 -6.0 4.8 6.0 -4.8 6.0zM443.3 683.0l4.8 -6.0 4.8 6.0 -4.8 6.0zM447.0 683.0l4.8 -6.0 4.8 6.0 -4.8 6.0zM450.6 683.0l4.8 -6.0 4.8 6.0 -4.8 6.0zM454.3 683.0l4.8 -6.0 4.8 6.0 -4.8 6.0zM457.9 683.0l4.8 -6.0 4.8 6.0 -4.8 6.0zM461.6 683.0l4.8 -6.0 4.8 6.0 -4.8 6.0zM465.2 683.0l4.8 -6.0 4.8 6.0 -4.8 6.0zM498.1 683.0l4.8 -6.0 4.8 6.0 -4.8 6.0zM501.7 683.0l4.8 -6.0 4.8 6.0 -4.8 6.0zM505.4 683.0l4.8 -6.0 4.8 6.0 -4.8 6.0zM509.0 683.0l4.8 -6.0 4.8 6.0 -4.8 6.0zM512.7 683.0l4.8 -6.0 4.8 6.0 -4.8 6.0zM516.4 683.0l4.8 -6.0 4.8 6.0 -4.8 6.0zM520.0 683.0l4.8 -6.0 4.8 6.0 -4.8 6.0zM523.7 683.0l4.8 -6.0 4.8 6.0 -4.8 6.0zM527.3 683.0l4.8 -6.0 4.8 6.0 -4.8 6.0zM531.0 683.0l4.8 -6.0 4.8 6.0 -4.8 6.0zM534.6 683.0l4.8 -6.0 4.8 6.0 -4.8 6.0zM538.3 683.0l4.8 -6.0 4.8 6.0 -4.8 6.0zM541.9 683.0l4.8 -6.0 4.8 6.0 -4.8 6.0zM545.6 683.0l4.8 -6.0 4.8 6.0 -4.8 6.0zM549.2 683.0l4.8 -6.0 4.8 6.0 -4.8 6.0zM552.9 683.0l4.8 -6.0 4.8 6.0 -4.8 6.0zM556.5 683.0l4.8 -6.0 4.8 6.0 -4.8 6.0zM560.2 683.0l4.8 -6.0 4.8 6.0 -4.8 6.0zM563.8 683.0l4.8 -6.0 4.8 6.0 -4.8 6.0zM567.5 683.0l4.8 -6.0 4.8 6.0 -4.8 6.0zM571.1 683.0l4.8 -6.0 4.8 6.0 -4.8 6.0zM574.8 683.0l4.8 -6.0 4.8 6.0 -4.8 6.0zM578.4 683.0l4.8 -6.0 4.8 6.0 -4.8 6.0zM582.1 683.0l4.8 -6.0 4.8 6.0 -4.8 6.0zM585.8 683.0l4.8 -6.0 4.8 6.0 -4.8 6.0zM589.4 683.0l4.8 -6.0 4.8 6.0 -4.8 6.0zM593.1 683.0l4.8 -6.0 4.8 6.0 -4.8 6.0zM596.7 683.0l4.8 -6.0 4.8 6.0 -4.8 6.0zM600.4 683.0l4.8 -6.0 4.8 6.0 -4.8 6.0zM604.0 683.0l4.8 -6.0 4.8 6.0 -4.8 6.0zM607.7 683.0l4.8 -6.0 4.8 6.0 -4.8 6.0zM611.3 683.0l4.8 -6.0 4.8 6.0 -4.8 6.0zM615.0 683.0l4.8 -6.0 4.8 6.0 -4.8 6.0zM618.6 683.0l4.8 -6.0 4.8 6.0 -4.8 6.0zM622.3 683.0l4.8 -6.0 4.8 6.0 -4.8 6.0zM625.9 683.0l4.8 -6.0 4.8 6.0 -4.8 6.0zM677.1 683.0l4.8 -6.0 4.8 6.0 -4.8 6.0zM680.7 683.0l4.8 -6.0 4.8 6.0 -4.8 6.0zM684.4 683.0l4.8 -6.0 4.8 6.0 -4.8 6.0zM688.0 683.0l4.8 -6.0 4.8 6.0 -4.8 6.0zM691.7 683.0l4.8 -6.0 4.8 6.0 -4.8 6.0zM695.3 683.0l4.8 -6.0 4.8 6.0 -4.8 6.0zM699.0 683.0l4.8 -6.0 4.8 6.0 -4.8 6.0zM702.6 683.0l4.8 -6.0 4.8 6.0 -4.8 6.0zM706.3 683.0l4.8 -6.0 4.8 6.0 -4.8 6.0zM709.9 683.0l4.8 -6.0 4.8 6.0 -4.8 6.0zM713.6 683.0l4.8 -6.0 4.8 6.0 -4.8 6.0zM717.2 683.0l4.8 -6.0 4.8 6.0 -4.8 6.0zM720.9 683.0l4.8 -6.0 4.8 6.0 -4.8 6.0zM724.5 683.0l4.8 -6.0 4.8 6.0 -4.8 6.0zM728.2 683.0l4.8 -6.0 4.8 6.0 -4.8 6.0zM731.9 683.0l4.8 -6.0 4.8 6.0 -4.8 6.0zM735.5 683.0l4.8 -6.0 4.8 6.0 -4.8 6.0zM739.2 683.0l4.8 -6.0 4.8 6.0 -4.8 6.0zM742.8 683.0l4.8 -6.0 4.8 6.0 -4.8 6.0zM746.5 683.0l4.8 -6.0 4.8 6.0 -4.8 6.0zM750.1 683.0l4.8 -6.0 4.8 6.0 -4.8 6.0zM753.8 683.0l4.8 -6.0 4.8 6.0 -4.8 6.0zM757.4 683.0l4.8 -6.0 4.8 6.0 -4.8 6.0zM761.1 683.0l4.8 -6.0 4.8 6.0 -4.8 6.0zM826.8 683.0l4.8 -6.0 4.8 6.0 -4.8 6.0zM830.5 683.0l4.8 -6.0 4.8 6.0 -4.8 6.0zM834.1 683.0l4.8 -6.0 4.8 6.0 -4.8 6.0zM837.8 683.0l4.8 -6.0 4.8 6.0 -4.8 6.0zM903.5 683.0l4.8 -6.0 4.8 6.0 -4.8 6.0zM907.2 683.0l4.8 -6.0 4.8 6.0 -4.8 6.0zM910.8 683.0l4.8 -6.0 4.8 6.0 -4.8 6.0zM914.5 683.0l4.8 -6.0 4.8 6.0 -4.8 6.0zM918.1 683.0l4.8 -6.0 4.8 6.0 -4.8 6.0zM921.8 683.0l4.8 -6.0 4.8 6.0 -4.8 6.0zM925.4 683.0l4.8 -6.0 4.8 6.0 -4.8 6.0zM929.1 683.0l4.8 -6.0 4.8 6.0 -4.8 6.0zM932.7 683.0l4.8 -6.0 4.8 6.0 -4.8 6.0zM936.4 683.0l4.8 -6.0 4.8 6.0 -4.8 6.0zM1027.7 683.0l4.8 -6.0 4.8 6.0 -4.8 6.0zM1031.4 683.0l4.8 -6.0 4.8 6.0 -4.8 6.0zM1035.0 683.0l4.8 -6.0 4.8 6.0 -4.8 6.0zM1038.7 683.0l4.8 -6.0 4.8 6.0 -4.8 6.0zM1042.3 683.0l4.8 -6.0 4.8 6.0 -4.8 6.0zM1046.0 683.0l4.8 -6.0 4.8 6.0 -4.8 6.0zM1049.6 683.0l4.8 -6.0 4.8 6.0 -4.8 6.0zM1053.3 683.0l4.8 -6.0 4.8 6.0 -4.8 6.0zM1056.9 683.0l4.8 -6.0 4.8 6.0 -4.8 6.0zM1060.6 683.0l4.8 -6.0 4.8 6.0 -4.8 6.0zM1064.2 683.0l4.8 -6.0 4.8 6.0 -4.8 6.0zM1067.9 683.0l4.8 -6.0 4.8 6.0 -4.8 6.0zM1071.5 683.0l4.8 -6.0 4.8 6.0 -4.8 6.0zM1075.2 683.0l4.8 -6.0 4.8 6.0 -4.8 6.0zM1078.8 683.0l4.8 -6.0 4.8 6.0 -4.8 6.0zM1082.5 683.0l4.8 -6.0 4.8 6.0 -4.8 6.0zM1086.1 683.0l4.8 -6.0 4.8 6.0 -4.8 6.0zM1089.8 683.0l4.8 -6.0 4.8 6.0 -4.8 6.0zM1093.5 683.0l4.8 -6.0 4.8 6.0 -4.8 6.0zM1097.1 683.0l4.8 -6.0 4.8 6.0 -4.8 6.0zM1100.8 683.0l4.8 -6.0 4.8 6.0 -4.8 6.0zM1104.4 683.0l4.8 -6.0 4.8 6.0 -4.8 6.0zM1108.1 683.0l4.8 -6.0 4.8 6.0 -4.8 6.0zM1111.7 683.0l4.8 -6.0 4.8 6.0 -4.8 6.0zM1115.4 683.0l4.8 -6.0 4.8 6.0 -4.8 6.0zM1119.0 683.0l4.8 -6.0 4.8 6.0 -4.8 6.0zM1122.7 683.0l4.8 -6.0 4.8 6.0 -4.8 6.0zM1126.3 683.0l4.8 -6.0 4.8 6.0 -4.8 6.0zM1130.0 683.0l4.8 -6.0 4.8 6.0 -4.8 6.0zM1133.6 683.0l4.8 -6.0 4.8 6.0 -4.8 6.0zM1137.3 683.0l4.8 -6.0 4.8 6.0 -4.8 6.0zM1140.9 683.0l4.8 -6.0 4.8 6.0 -4.8 6.0zM1144.6 683.0l4.8 -6.0 4.8 6.0 -4.8 6.0zM1148.2 683.0l4.8 -6.0 4.8 6.0 -4.8 6.0zM1151.9 683.0l4.8 -6.0 4.8 6.0 -4.8 6.0zM1155.5 683.0l4.8 -6.0 4.8 6.0 -4.8 6.0zM1159.2 683.0l4.8 -6.0 4.8 6.0 -4.8 6.0zM1162.8 683.0l4.8 -6.0 4.8 6.0 -4.8 6.0zM1166.5 683.0l4.8 -6.0 4.8 6.0 -4.8 6.0zM1170.2 683.0l4.8 -6.0 4.8 6.0 -4.8 6.0zM1173.8 683.0l4.8 -6.0 4.8 6.0 -4.8 6.0zM1177.5 683.0l4.8 -6.0 4.8 6.0 -4.8 6.0zM1181.1 683.0l4.8 -6.0 4.8 6.0 -4.8 6.0zM1184.8 683.0l4.8 -6.0 4.8 6.0 -4.8 6.0zM1188.4 683.0l4.8 -6.0 4.8 6.0 -4.8 6.0zM1192.1 683.0l4.8 -6.0 4.8 6.0 -4.8 6.0zM1195.7 683.0l4.8 -6.0 4.8 6.0 -4.8 6.0zM1199.4 683.0l4.8 -6.0 4.8 6.0 -4.8 6.0zM1203.0 683.0l4.8 -6.0 4.8 6.0 -4.8 6.0zM1206.7 683.0l4.8 -6.0 4.8 6.0 -4.8 6.0zM1210.3 683.0l4.8 -6.0 4.8 6.0 -4.8 6.0zM1214.0 683.0l4.8 -6.0 4.8 6.0 -4.8 6.0zM1217.6 683.0l4.8 -6.0 4.8 6.0 -4.8 6.0zM1221.3 683.0l4.8 -6.0 4.8 6.0 -4.8 6.0zM1224.9 683.0l4.8 -6.0 4.8 6.0 -4.8 6.0zM1228.6 683.0l4.8 -6.0 4.8 6.0 -4.8 6.0zM1232.2 683.0l4.8 -6.0 4.8 6.0 -4.8 6.0zM1235.9 683.0l4.8 -6.0 4.8 6.0 -4.8 6.0zM1239.5 683.0l4.8 -6.0 4.8 6.0 -4.8 6.0zM1243.2 683.0l4.8 -6.0 4.8 6.0 -4.8 6.0zM1246.9 683.0l4.8 -6.0 4.8 6.0 -4.8 6.0zM1250.5 683.0l4.8 -6.0 4.8 6.0 -4.8 6.0zM1254.2 683.0l4.8 -6.0 4.8 6.0 -4.8 6.0zM1257.8 683.0l4.8 -6.0 4.8 6.0 -4.8 6.0zM1261.5 683.0l4.8 -6.0 4.8 6.0 -4.8 6.0zM1265.1 683.0l4.8 -6.0 4.8 6.0 -4.8 6.0zM1268.8 683.0l4.8 -6.0 4.8 6.0 -4.8 6.0zM1272.4 683.0l4.8 -6.0 4.8 6.0 -4.8 6.0zM1276.1 683.0l4.8 -6.0 4.8 6.0 -4.8 6.0zM1279.7 683.0l4.8 -6.0 4.8 6.0 -4.8 6.0zM1283.4 683.0l4.8 -6.0 4.8 6.0 -4.8 6.0zM1287.0 683.0l4.8 -6.0 4.8 6.0 -4.8 6.0zM1290.7 683.0l4.8 -6.0 4.8 6.0 -4.8 6.0zM1294.3 683.0l4.8 -6.0 4.8 6.0 -4.8 6.0zM1298.0 683.0l4.8 -6.0 4.8 6.0 -4.8 6.0zM1301.6 683.0l4.8 -6.0 4.8 6.0 -4.8 6.0zM1305.3 683.0l4.8 -6.0 4.8 6.0 -4.8 6.0zM1308.9 683.0l4.8 -6.0 4.8 6.0 -4.8 6.0zM1312.6 683.0l4.8 -6.0 4.8 6.0 -4.8 6.0zM1316.3 683.0l4.8 -6.0 4.8 6.0 -4.8 6.0zM1319.9 683.0l4.8 -6.0 4.8 6.0 -4.8 6.0zM1323.6 683.0l4.8 -6.0 4.8 6.0 -4.8 6.0zM1327.2 683.0l4.8 -6.0 4.8 6.0 -4.8 6.0zM1330.9 683.0l4.8 -6.0 4.8 6.0 -4.8 6.0zM1334.5 683.0l4.8 -6.0 4.8 6.0 -4.8 6.0zM1338.2 683.0l4.8 -6.0 4.8 6.0 -4.8 6.0zM1341.8 683.0l4.8 -6.0 4.8 6.0 -4.8 6.0zM1345.5 683.0l4.8 -6.0 4.8 6.0 -4.8 6.0zM1349.1 683.0l4.8 -6.0 4.8 6.0 -4.8 6.0zM1352.8 683.0l4.8 -6.0 4.8 6.0 -4.8 6.0zM1356.4 683.0l4.8 -6.0 4.8 6.0 -4.8 6.0zM1360.1 683.0l4.8 -6.0 4.8 6.0 -4.8 6.0zM1363.7 683.0l4.8 -6.0 4.8 6.0 -4.8 6.0zM1367.4 683.0l4.8 -6.0 4.8 6.0 -4.8 6.0zM1371.0 683.0l4.8 -6.0 4.8 6.0 -4.8 6.0zM1374.7 683.0l4.8 -6.0 4.8 6.0 -4.8 6.0zM1378.3 683.0l4.8 -6.0 4.8 6.0 -4.8 6.0zM1382.0 683.0l4.8 -6.0 4.8 6.0 -4.8 6.0zM1385.7 683.0l4.8 -6.0 4.8 6.0 -4.8 6.0zM1389.3 683.0l4.8 -6.0 4.8 6.0 -4.8 6.0zM1393.0 683.0l4.8 -6.0 4.8 6.0 -4.8 6.0zM1396.6 683.0l4.8 -6.0 4.8 6.0 -4.8 6.0zM1400.3 683.0l4.8 -6.0 4.8 6.0 -4.8 6.0zM1403.9 683.0l4.8 -6.0 4.8 6.0 -4.8 6.0zM1407.6 683.0l4.8 -6.0 4.8 6.0 -4.8 6.0zM1411.2 683.0l4.8 -6.0 4.8 6.0 -4.8 6.0zM1414.9 683.0l4.8 -6.0 4.8 6.0 -4.8 6.0zM1418.5 683.0l4.8 -6.0 4.8 6.0 -4.8 6.0zM1422.2 683.0l4.8 -6.0 4.8 6.0 -4.8 6.0zM1425.8 683.0l4.8 -6.0 4.8 6.0 -4.8 6.0zM1429.5 683.0l4.8 -6.0 4.8 6.0 -4.8 6.0zM1433.1 683.0l4.8 -6.0 4.8 6.0 -4.8 6.0zM1436.8 683.0l4.8 -6.0 4.8 6.0 -4.8 6.0zM1440.4 683.0l4.8 -6.0 4.8 6.0 -4.8 6.0zM1444.1 683.0l4.8 -6.0 4.8 6.0 -4.8 6.0zM1447.7 683.0l4.8 -6.0 4.8 6.0 -4.8 6.0zM1451.4 683.0l4.8 -6.0 4.8 6.0 -4.8 6.0zM1455.0 683.0l4.8 -6.0 4.8 6.0 -4.8 6.0zM1458.7 683.0l4.8 -6.0 4.8 6.0 -4.8 6.0zM1462.4 683.0l4.8 -6.0 4.8 6.0 -4.8 6.0zM1466.0 683.0l4.8 -6.0 4.8 6.0 -4.8 6.0zM1469.7 683.0l4.8 -6.0 4.8 6.0 -4.8 6.0zM1473.3 683.0l4.8 -6.0 4.8 6.0 -4.8 6.0zM1477.0 683.0l4.8 -6.0 4.8 6.0 -4.8 6.0zM1480.6 683.0l4.8 -6.0 4.8 6.0 -4.8 6.0zM1484.3 683.0l4.8 -6.0 4.8 6.0 -4.8 6.0zM1487.9 683.0l4.8 -6.0 4.8 6.0 -4.8 6.0zM1491.6 683.0l4.8 -6.0 4.8 6.0 -4.8 6.0z"/>
<path fill="#0000cd" d="M-2.3 683.0l4.8 -6.0 4.8 6.0 -4.8 6.0zM1.4 683.0l4.8 -6.0 4.8 6.0 -4.8 6.0zM5.0 683.0l4.8 -6.0 4.8 6.0 -4.8 6.0zM8.7 683.0l4.8 -6.0 4.8 6.0 -4.8 6.0zM12.3 683.0l4.8 -6.0 4.8 6.0 -4.8 6.0zM16.0 683.0l4.8 -6.0 4.8 6.0 -4.8 6.0zM19.6 683.0l4.8 -6.0 4.8 6.0 -4.8 6.0zM23.3 683.0l4.8 -6.0 4.8 6.0 -4.8 6.0zM26.9 683.0l4.8 -6.0 4.8 6.0 -4.8 6.0zM165.7 683.0l4.8 -6.0 4.8 6.0 -4.8 6.0zM169.4 683.0l4.8 -6.0 4.8 6.0 -4.8 6.0zM173.0 683.0l4.8 -6.0 4.8 6.0 -4.8 6.0zM176.7 683.0l4.8 -6.0 4.8 6.0 -4.8 6.0zM180.3 683.0l4.8 -6.0 4.8 6.0 -4.8 6.0zM184.0 683.0l4.8 -6.0 4.8 6.0 -4.8 6.0zM187.6 683.0l4.8 -6.0 4.8 6.0 -4.8 6.0zM191.3 683.0l4.8 -6.0 4.8 6.0 -4.8 6.0zM194.9 683.0l4.8 -6.0 4.8 6.0 -4.8 6.0zM253.4 683.0l4.8 -6.0 4.8 6.0 -4.8 6.0zM257.0 683.0l4.8 -6.0 4.8 6.0 -4.8 6.0zM260.7 683.0l4.8 -6.0 4.8 6.0 -4.8 6.0zM264.3 683.0l4.8 -6.0 4.8 6.0 -4.8 6.0zM268.0 683.0l4.8 -6.0 4.8 6.0 -4.8 6.0zM271.6 683.0l4.8 -6.0 4.8 6.0 -4.8 6.0zM275.3 683.0l4.8 -6.0 4.8 6.0 -4.8 6.0zM278.9 683.0l4.8 -6.0 4.8 6.0 -4.8 6.0zM282.6 683.0l4.8 -6.0 4.8 6.0 -4.8 6.0zM286.2 683.0l4.8 -6.0 4.8 6.0 -4.8 6.0zM337.4 683.0l4.8 -6.0 4.8 6.0 -4.8 6.0zM341.0 683.0l4.8 -6.0 4.8 6.0 -4.8 6.0zM344.7 683.0l4.8 -6.0 4.8 6.0 -4.8 6.0zM348.3 683.0l4.8 -6.0 4.8 6.0 -4.8 6.0zM352.0 683.0l4.8 -6.0 4.8 6.0 -4.8 6.0zM355.6 683.0l4.8 -6.0 4.8 6.0 -4.8 6.0zM468.9 683.0l4.8 -6.0 4.8 6.0 -4.8 6.0zM472.5 683.0l4.8 -6.0 4.8 6.0 -4.8 6.0zM476.2 683.0l4.8 -6.0 4.8 6.0 -4.8 6.0zM479.8 683.0l4.8 -6.0 4.8 6.0 -4.8 6.0zM483.5 683.0l4.8 -6.0 4.8 6.0 -4.8 6.0zM487.1 683.0l4.8 -6.0 4.8 6.0 -4.8 6.0zM490.8 683.0l4.8 -6.0 4.8 6.0 -4.8 6.0zM494.4 683.0l4.8 -6.0 4.8 6.0 -4.8 6.0zM629.6 683.0l4.8 -6.0 4.8 6.0 -4.8 6.0zM633.2 683.0l4.8 -6.0 4.8 6.0 -4.8 6.0zM636.9 683.0l4.8 -6.0 4.8 6.0 -4.8 6.0zM640.5 683.0l4.8 -6.0 4.8 6.0 -4.8 6.0zM644.2 683.0l4.8 -6.0 4.8 6.0 -4.8 6.0zM647.8 683.0l4.8 -6.0 4.8 6.0 -4.8 6.0zM651.5 683.0l4.8 -6.0 4.8 6.0 -4.8 6.0zM655.1 683.0l4.8 -6.0 4.8 6.0 -4.8 6.0zM658.8 683.0l4.8 -6.0 4.8 6.0 -4.8 6.0zM662.5 683.0l4.8 -6.0 4.8 6.0 -4.8 6.0zM666.1 683.0l4.8 -6.0 4.8 6.0 -4.8 6.0zM669.8 683.0l4.8 -6.0 4.8 6.0 -4.8 6.0zM673.4 683.0l4.8 -6.0 4.8 6.0 -4.8 6.0zM764.7 683.0l4.8 -6.0 4.8 6.0 -4.8 6.0zM768.4 683.0l4.8 -6.0 4.8 6.0 -4.8 6.0zM772.0 683.0l4.8 -6.0 4.8 6.0 -4.8 6.0zM775.7 683.0l4.8 -6.0 4.8 6.0 -4.8 6.0zM779.3 683.0l4.8 -6.0 4.8 6.0 -4.8 6.0zM783.0 683.0l4.8 -6.0 4.8 6.0 -4.8 6.0zM786.6 683.0l4.8 -6.0 4.8 6.0 -4.8 6.0zM790.3 683.0l4.8 -6.0 4.8 6.0 -4.8 6.0zM793.9 683.0l4.8 -6.0 4.8 6.0 -4.8 6.0zM797.6 683.0l4.8 -6.0 4.8 6.0 -4.8 6.0zM801.2 683.0l4.8 -6.0 4.8 6.0 -4.8 6.0zM804.9 683.0l4.8 -6.0 4.8 6.0 -4.8 6.0zM808.6 683.0l4.8 -6.0 4.8 6.0 -4.8 6.0zM812.2 683.0l4.8 -6.0 4.8 6.0 -4.8 6.0zM815.9 683.0l4.8 -6.0 4.8 6.0 -4.8 6.0zM819.5 683.0l4.8 -6.0 4.8 6.0 -4.8 6.0zM823.2 683.0l4.8 -6.0 4.8 6.0 -4.8 6.0zM841.4 683.0l4.8 -6.0 4.8 6.0 -4.8 6.0zM845.1 683.0l4.8 -6.0 4.8 6.0 -4.8 6.0zM848.7 683.0l4.8 -6.0 4.8 6.0 -4.8 6.0zM852.4 683.0l4.8 -6.0 4.8 6.0 -4.8 6.0zM856.0 683.0l4.8 -6.0 4.8 6.0 -4.8 6.0zM859.7 683.0l4.8 -6.0 4.8 6.0 -4.8 6.0zM863.3 683.0l4.8 -6.0 4.8 6.0 -4.8 6.0zM867.0 683.0l4.8 -6.0 4.8 6.0 -4.8 6.0zM870.6 683.0l4.8 -6.0 4.8 6.0 -4.8 6.0zM874.3 683.0l4.8 -6.0 4.8 6.0 -4.8 6.0zM878.0 683.0l4.8 -6.0 4.8 6.0 -4.8 6.0zM881.6 683.0l4.8 -6.0 4.8 6.0 -4.8 6.0zM885.3 683.0l4.8 -6.0 4.8 6.0 -4.8 6.0zM888.9 683.0l4.8 -6.0 4.8 6.0 -4.8 6.0zM892.6 683.0l4.8 -6.0 4.8 6.0 -4.8 6.0zM896.2 683.0l4.8 -6.0 4.8 6.0 -4.8 6.0zM899.9 683.0l4.8 -6.0 4.8 6.0 -4.8 6.0zM940.0 683.0l4.8 -6.0 4.8 6.0 -4.8 6.0zM943.7 683.0l4.8 -6.0 4.8 6.0 -4.8 6.0zM947.4 683.0l4.8 -6.0 4.8 6.0 -4.8 6.0zM951.0 683.0l4.8 -6.0 4.8 6.0 -4.8 6.0zM954.7 683.0l4.8 -6.0 4.8 6.0 -4.8 6.0zM958.3 683.0l4.8 -6.0 4.8 6.0 -4.8 6.0zM962.0 683.0l4.8 -6.0 4.8 6.0 -4.8 6.0zM965.6 683.0l4.8 -6.0 4.8 6.0 -4.8 6.0zM969.3 683.0l4.8 -6.0 4.8 6.0 -4.8 6.0zM972.9 683.0l4.8 -6.0 4.8 6.0 -4.8 6.0zM976.6 683.0l4.8 -6.0 4.8 6.0 -4.8 6.0zM980.2 683.0l4.8 -6.0 4.8 6.0 -4.8 6.0zM983.9 683.0l4.8 -6.0 4.8 6.0 -4.8 6.0zM987.5 683.0l4.8 -6.0 4.8 6.0 -4.8 6.0zM991.2 683.0l4.8 -6.0 4.8 6.0 -4.8 6.0zM994.8 683.0l4.8 -6.0 4.8 6.0 -4.8 6.0zM998.5 683.0l4.8 -6.0 4.8 6.0 -4.8 6.0zM1002.1 683.0l4.8 -6.0 4.8 6.0 -4.8 6.0zM1005.8 683.0l4.8 -6.0 4.8 6.0 -4.8 6.0zM1009.4 683.0l4.8 -6.0 4.8 6.0 -4.8 6.0zM1013.1 683.0l4.8 -6.0 4.8 6.0 -4.8 6.0zM1016.7 683.0l4.8 -6.0 4.8 6.0 -4.8 6.0zM1020.4 683.0l4.8 -6.0 4.8 6.0 -4.8 6.0zM1024.1 683.0l4.8 -6.0 4.8 6.0 -4.8 6.0z"/>
<path fill="#0000cd" d="M-2.3 750.7l4.8 -6.0 4.8 6.0 -4.8 6.0zM1.4 750.7l4.8 -6.0 4.8 6.0 -4.8 6.0zM5.0 750.7l4.8 -6.0 4.8 6.0 -4.8 6.0zM8.7 750.7l4.8 -6.0 4.8 6.0 -4.8 6.0zM12.3 750.7l4.8 -6.0 4.8 6.0 -4.8 6.0zM16.0 750.7l4.8 -6.0 4.8 6.0 -4.8 6.0zM19.6 750.7l4.8 -6.0 4.8 6.0 -4.8 6.0zM23.3 750.7l4.8 -6.0 4.8 6.0 -4.8 6.0zM26.9 750.7l4.8 -6.0 4.8 6.0 -4.8 6.0zM30.6 750.7l4.8 -6.0 4.8 6.0 -4.8 6.0zM34.2 750.7l4.8 -6.0 4.8 6.0 -4.8 6.0zM37.9 750.7l4.8 -6.0 4.8 6.0 -4.8 6.0zM790.3 750.7l4.8 -6.0 4.8 6.0 -4.8 6.0zM793.9 750.7l4.8 -6.0 4.8 6.0 -4.8 6.0zM797.6 750.7l4.8 -6.0 4.8 6.0 -4.8 6.0zM801.2 750.7l4.8 -6.0 4.8 6.0 -4.8 6.0zM804.9 750.7l4.8 -6.0 4.8 6.0 -4.8 6.0zM808.6 750.7l4.8 -6.0 4.8 6.0 -4.8 6.0zM812.2 750.7l4.8 -6.0 4.8 6.0 -4.8 6.0zM815.9 750.7l4.8 -6.0 4.8 6.0 -4.8 6.0zM819.5 750.7l4.8 -6.0 4.8 6.0 -4.8 6.0zM823.2 750.7l4.8 -6.0 4.8 6.0 -4.8 6.0zM826.8 750.7l4.8 -6.0 4.8 6.0 -4.8 6.0zM830.5 750.7l4.8 -6.0 4.8 6.0 -4.8 6.0zM834.1 750.7l4.8 -6.0 4.8 6.0 -4.8 6.0zM837.8 750.7l4.8 -6.0 4.8 6.0 -4.8 6.0zM841.4 750.7l4.8 -6.0 4.8 6.0 -4.8 6.0zM845.1 750.7l4.8 -6.0 4.8 6.0 -4.8 6.0zM848.7 750.7l4.8 -6.0 4.8 6.0 -4.8 6.0zM852.4 750.7l4.8 -6.0 4.8 6.0 -4.8 6.0zM856.0 750.7l4.8 -6.0 4.8 6.0 -4.8 6.0zM859.7 750.7l4.8 -6.0 4.8 6.0 -4.8 6.0zM863.3 750.7l4.8 -6.0 4.8 6.0 -4.8 6.0zM867.0 750.7l4.8 -6.0 4.8 6.0 -4.8 6.0zM870.6 750.7l4.8 -6.0 4.8 6.0 -4.8 6.0zM874.3 750.7l4.8 -6.0 4.8 6.0 -4.8 6.0zM878.0 750.7l4.8 -6.0 4.8 6.0 -4.8 6.0zM881.6 750.7l4.8 -6.0 4.8 6.0 -4.8 6.0zM885.3 750.7l4.8 -6.0 4.8 6.0 -4.8 6.0zM888.9 750.7l4.8 -6.0 4.8 6.0 -4.8 6.0zM892.6 750.7l4.8 -6.0 4.8 6.0 -4.8 6.0zM896.2 750.7l4.8 -6.0 4.8 6.0 -4.8 6.0zM899.9 750.7l4.8 -6.0 4.8 6.0 -4.8 6.0zM903.5 750.7l4.8 -6.0 4.8 6.0 -4.8 6.0zM907.2 750.7l4.8 -6.0 4.8 6.0 -4.8 6.0zM910.8 750.7l4.8 -6.0 4.8 6.0 -4.8 6.0zM914.5 750.7l4.8 -6.0 4.8 6.0 -4.8 6.0zM918.1 750.7l4.8 -6.0 4.8 6.0 -4.8 6.0zM921.8 750.7l4.8 -6.0 4.8 6.0 -4.8 6.0zM925.4 750.7l4.8 -6.0 4.8 6.0 -4.8 6.0zM929.1 750.7l4.8 -6.0 4.8 6.0 -4.8 6.0zM932.7 750.7l4.8 -6.0 4.8 6.0 -4.8 6.0zM936.4 750.7l4.8 -6.0 4.8 6.0 -4.8 6.0zM940.0 750.7l4.8 -6.0 4.8 6.0 -4.8 6.0zM943.7 750.7l4.8 -6.0 4.8 6.0 -4.8 6.0zM947.4 750.7l4.8 -6.0 4.8 6.0 -4.8 6.0zM951.0 750.7l4.8 -6.0 4.8 6.0 -4.8 6.0zM954.7 750.7l4.8 -6.0 4.8 6.0 -4.8 6.0zM958.3 750.7l4.8 -6.0 4.8 6.0 -4.8 6.0zM962.0 750.7l4.8 -6.0 4.8 6.0 -4.8 6.0zM965.6 750.7l4.8 -6.0 4.8 6.0 -4.8 6.0zM969.3 750.7l4.8 -6.0 4.8 6.0 -4.8 6.0zM972.9 750.7l4.8 -6.0 4.8 6.0 -4.8 6.0zM976.6 750.7l4.8 -6.0 4.8 6.0 -4.8 6.0zM980.2 750.7l4.8 -6.0 4.8 6.0 -4.8 6.0zM983.9 750.7l4.8 -6.0 4.8 6.0 -4.8 6.0zM987.5 750.7l4.8 -6.0 4.8 6.0 -4.8 6.0zM991.2 750.7l4.8 -6.0 4.8 6.0 -4.8 6.0zM994.8 750.7l4.8 -6.0 4.8 6.0 -4.8 6.0zM998.5 750.7l4.8 -6.0 4.8 6.0 -4.8 6.0zM1002.1 750.7l4.8 -6.0 4.8 6.0 -4.8 6.0zM1005.8 750.7l4.8 -6.0 4.8 6.0 -4.8 6.0zM1009.4 750.7l4.8 -6.0 4.8 6.0 -4.8 6.0zM1013.1 750.7l4.8 -6.0 4.8 6.0 -4.8 6.0zM1016.7 750.7l4.8 -6.0 4.8 6.0 -4.8 6.0zM1020.4 750.7l4.8 -6.0 4.8 6.0 -4.8 6.0zM1024.1 750.7l4.8 -6.0 4.8 6.0 -4.8 6.0zM1027.7 750.7l4.8 -6.0 4.8 6.0 -4.8 6.0zM1031.4 750.7l4.8 -6.0 4.8 6.0 -4.8 6.0zM1035.0 750.7l4.8 -6.0 4.8 6.0 -4.8 6.0zM1038.7 750.7l4.8 -6.0 4.8 6.0 -4.8 6.0zM1042.3 750.7l4.8 -6.0 4.8 6.0 -4.8 6.0zM1046.0 750.7l4.8 -6.0 4.8 6.0 -4.8 6.0zM1049.6 750.7l4.8 -6.0 4.8 6.0 -4.8 6.0zM1053.3 750.7l4.8 -6.0 4.8 6.0 -4.8 6.0zM1056.9 750.7l4.8 -6.0 4.8 6.0 -4.8 6.0zM1060.6 750.7l4.8 -6.0 4.8 6.0 -4.8 6.0zM1064.2 750.7l4.8 -6.0 4.8 6.0 -4.8 6.0zM1067.9 750.7l4.8 -6.0 4.8 6.0 -4.8 6.0zM1071.5 750.7l4.8 -6.0 4.8 6.0 -4.8 6.0z"/>
<path fill="#00ffff" d="M41.5 750.7l4.8 -6.0 4.8 6.0 -4.8 6.0zM45.2 750.7l4.8 -6.0 4.8 6.0 -4.8 6.0zM48.8 750.7l4.8 -6.0 4.8 6.0 -4.8 6.0zM52.5 750.7l4.8 -6.0 4.8 6.0 -4.8 6.0zM56.1 750.7l4.8 -6.0 4.8 6.0 -4.8 6.0zM59.8 750.7l4.8 -6.0 4.8 6.0 -4.8 6.0zM63.4 750.7l4.8 -6.0 4.8 6.0 -4.8 6.0zM67.1 750.7l4.8 -6.0 4.8 6.0 -4.8 6.0zM70.8 750.7l4.8 -6.0 4.8 6.0 -4.8 6.0zM74.4 750.7l4.8 -6.0 4.8 6.0 -4.8 6.0zM78.1 750.7l4.8 -6.0 4.8 6.0 -4.8 6.0zM81.7 750.7l4.8 -6.0 4.8 6.0 -4.8 6.0zM85.4 750.7l4.8 -6.0 4.8 6.0 -4.8 6.0zM89.0 750.7l4.8 -6.0 4.8 6.0 -4.8 6.0zM92.7 750.7l4.8 -6.0 4.8 6.0 -4.8 6.0zM96.3 750.7l4.8 -6.0 4.8 6.0 -4.8 6.0zM100.0 750.7l4.8 -6.0 4.8 6.0 -4.8 6.0zM103.6 750.7l4.8 -6.0 4.8 6.0 -4.8 6.0zM107.3 750.7l4.8 -6.0 4.8 6.0 -4.8 6.0zM110.9 750.7l4.8 -6.0 4.8 6.0 -4.8 6.0zM114.6 750.7l4.8 -6.0 4.8 6.0 -4.8 6.0zM118.2 750.7l4.8 -6.0 4.8 6.0 -4.8 6.0zM121.9 750.7l4.8 -6.0 4.8 6.0 -4.8 6.0zM125.5 750.7l4.8 -6.0 4.8 6.0 -4.8 6.0zM129.2 750.7l4.8 -6.0 4.8 6.0 -4.8 6.0zM132.8 750.7l4.8 -6.0 4.8 6.0 -4.8 6.0zM136.5 750.7l4.8 -6.0 4.8 6.0 -4.8 6.0zM140.1 750.7l4.8 -6.0 4.8 6.0 -4.8 6.0zM143.8 750.7l4.8 -6.0 4.8 6.0 -4.8 6.0zM147.5 750.7l4.8 -6.0 4.8 6.0 -4.8 6.0zM151.1 750.7l4.8 -6.0 4.8 6.0 -4.8 6.0zM154.8 750.7l4.8 -6.0 4.8 6.0 -4.8 6.0zM158.4 750.7l4.8 -6.0 4.8 6.0 -4.8 6.0zM162.1 750.7l4.8 -6.0 4.8 6.0 -4.8 6.0zM165.7 750.7l4.8 -6.0 4.8 6.0 -4.8 6.0zM169.4 750.7l4.8 -6.0 4.8 6.0 -4.8 6.0zM173.0 750.7l4.8 -6.0 4.8 6.0 -4.8 6.0zM176.7 750.7l4.8 -6.0 4.8 6.0 -4.8 6.0zM180.3 750.7l4.8 -6.0 4.8 6.0 -4.8 6.0zM184.0 750.7l4.8 -6.0 4.8 6.0 -4.8 6.0zM187.6 750.7l4.8 -6.0 4.8 6.0 -4.8 6.0zM191.3 750.7l4.8 -6.0 4.8 6.0 -4.8 6.0zM194.9 750.7l4.8 -6.0 4.8 6.0 -4.8 6.0zM198.6 750.7l4.8 -6.0 4.8 6.0 -4.8 6.0zM202.2 750.7l4.8 -6.0 4.8 6.0 -4.8 6.0zM205.9 750.7l4.8 -6.0 4.8 6.0 -4.8 6.0zM209.5 750.7l4.8 -6.0 4.8 6.0 -4.8 6.0zM213.2 750.7l4.8 -6.0 4.8 6.0 -4.8 6.0zM216.8 750.7l4.8 -6.0 4.8 6.0 -4.8 6.0zM220.5 750.7l4.8 -6.0 4.8 6.0 -4.8 6.0zM224.2 750.7l4.8 -6.0 4.8 6.0 -4.8 6.0zM227.8 750.7l4.8 -6.0 4.8 6.0 -4.8 6.0zM231.5 750.7l4.8 -6.0 4.8 6.0 -4.8 6.0zM235.1 750.7l4.8 -6.0 4.8 6.0 -4.8 6.0zM238.8 750.7l4.8 -6.0 4.8 6.0 -4.8 6.0zM242.4 750.7l4.8 -6.0 4.8 6.0 -4.8 6.0zM246.1 750.7l4.8 -6.0 4.8 6.0 -4.8 6.0zM249.7 750.7l4.8 -6.0 4.8 6.0 -4.8 6.0zM253.4 750.7l4.8 -6.0 4.8 6.0 -4.8 6.0zM257.0 750.7l4.8 -6.0 4.8 6.0 -4.8 6.0zM260.7 750.7l4.8 -6.0 4.8 6.0 -4.8 6.0zM264.3 750.7l4.8 -6.0 4.8 6.0 -4.8 6.0zM268.0 750.7l4.8 -6.0 4.8 6.0 -4.8 6.0zM271.6 750.7l4.8 -6.0 4.8 6.0 -4.8 6.0zM275.3 750.7l4.8 -6.0 4.8 6.0 -4.8 6.0zM278.9 750.7l4.8 -6.0 4.8 6.0 -4.8 6.0zM282.6 750.7l4.8 -6.0 4.8 6.0 -4.8 6.0zM286.2 750.7l4.8 -6.0 4.8 6.0 -4.8 6.0zM289.9 750.7l4.8 -6.0 4.8 6.0 -4.8 6.0zM293.6 750.7l4.8 -6.0 4.8 6.0 -4.8 6.0zM297.2 750.7l4.8 -6.0 4.8 6.0 -4.8 6.0zM300.9 750.7l4.8 -6.0 4.8 6.0 -4.8 6.0zM304.5 750.7l4.8 -6.0 4.8 6.0 -4.8 6.0zM308.2 750.7l4.8 -6.0 4.8 6.0 -4.8 6.0zM311.8 750.7l4.8 -6.0 4.8 6.0 -4.8 6.0zM315.5 750.7l4.8 -6.0 4.8 6.0 -4.8 6.0zM319.1 750.7l4.8 -6.0 4.8 6.0 -4.8 6.0zM322.8 750.7l4.8 -6.0 4.8 6.0 -4.8 6.0zM326.4 750.7l4.8 -6.0 4.8 6.0 -4.8 6.0zM330.1 750.7l4.8 -6.0 4.8 6.0 -4.8 6.0zM333.7 750.7l4.8 -6.0 4.8 6.0 -4.8 6.0zM337.4 750.7l4.8 -6.0 4.8 6.0 -4.8 6.0zM341.0 750.7l4.8 -6.0 4.8 6.0 -4.8 6.0zM344.7 750.7l4.8 -6.0 4.8 6.0 -4.8 6.0zM348.3 750.7l4.8 -6.0 4.8 6.0 -4.8 6.0zM352.0 750.7l4.8 -6.0 4.8 6.0 -4.8 6.0zM355.6 750.7l4.8 -6.0 4.8 6.0 -4.8 6.0zM359.3 750.7l4.8 -6.0 4.8 6.0 -4.8 6.0zM362.9 750.7l4.8 -6.0 4.8 6.0 -4.8 6.0zM366.6 750.7l4.8 -6.0 4.8 6.0 -4.8 6.0zM370.3 750.7l4.8 -6.0 4.8 6.0 -4.8 6.0zM373.9 750.7l4.8 -6.0 4.8 6.0 -4.8 6.0zM377.6 750.7l4.8 -6.0 4.8 6.0 -4.8 6.0zM381.2 750.7l4.8 -6.0 4.8 6.0 -4.8 6.0zM384.9 750.7l4.8 -6.0 4.8 6.0 -4.8 6.0zM388.5 750.7l4.8 -6.0 4.8 6.0 -4.8 6.0zM392.2 750.7l4.8 -6.0 4.8 6.0 -4.8 6.0zM395.8 750.7l4.8 -6.0 4.8 6.0 -4.8 6.0zM399.5 750.7l4.8 -6.0 4.8 6.0 -4.8 6.0zM403.1 750.7l4.8 -6.0 4.8 6.0 -4.8 6.0zM406.8 750.7l4.8 -6.0 4.8 6.0 -4.8 6.0zM410.4 750.7l4.8 -6.0 4.8 6.0 -4.8 6.0zM414.1 750.7l4.8 -6.0 4.8 6.0 -4.8 6.0zM417.7 750.7l4.8 -6.0 4.8 6.0 -4.8 6.0zM421.4 750.7l4.8 -6.0 4.8 6.0 -4.8 6.0zM425.0 750.7l4.8 -6.0 4.8 6.0 -4.8 6.0zM428.7 750.7l4.8 -6.0 4.8 6.0 -4.8 6.0zM432.3 750.7l4.8 -6.0 4.8 6.0 -4.8 6.0zM436.0 750.7l4.8 -6.0 4.8 6.0 -4.8 6.0zM439.7 750.7l4.8 -6.0 4.8 6.0 -4.8 6.0zM443.3 750.7l4.8 -6.0 4.8 6.0 -4.8 6.0zM447.0 750.7l4.8 -6.0 4.8 6.0 -4.8 6.0zM450.6 750.7l4.8 -6.0 4.8 6.0 -4.8 6.0zM454.3 750.7l4.8 -6.0 4.8 6.0 -4.8 6.0zM457.9 750.7l4.8 -6.0 4.8 6.0 -4.8 6.0zM461.6 750.7l4.8 -6.0 4.8 6.0 -4.8 6.0zM465.2 750.7l4.8 -6.0 4.8 6.0 -4.8 6.0zM468.9 750.7l4.8 -6.0 4.8 6.0 -4.8 6.0zM472.5 750.7l4.8 -6.0 4.8 6.0 -4.8 6.0zM476.2 750.7l4.8 -6.0 4.8 6.0 -4.8 6.0zM479.8 750.7l4.8 -6.0 4.8 6.0 -4.8 6.0zM483.5 750.7l4.8 -6.0 4.8 6.0 -4.8 6.0zM487.1 750.7l4.8 -6.0 4.8 6.0 -4.8 6.0zM490.8 750.7l4.8 -6.0 4.8 6.0 -4.8 6.0zM494.4 750.7l4.8 -6.0 4.8 6.0 -4.8 6.0zM498.1 750.7l4.8 -6.0 4.8 6.0 -4.8 6.0zM501.7 750.7l4.8 -6.0 4.8 6.0 -4.8 6.0zM505.4 750.7l4.8 -6.0 4.8 6.0 -4.8 6.0zM509.0 750.7l4.8 -6.0 4.8 6.0 -4.8 6.0zM512.7 750.7l4.8 -6.0 4.8 6.0 -4.8 6.0zM516.4 750.7l4.8 -6.0 4.8 6.0 -4.8 6.0zM520.0 750.7l4.8 -6.0 4.8 6.0 -4.8 6.0zM523.7 750.7l4.8 -6.0 4.8 6.0 -4.8 6.0zM527.3 750.7l4.8 -6.0 4.8 6.0 -4.8 6.0zM531.0 750.7l4.8 -6.0 4.8 6.0 -4.8 6.0zM534.6 750.7l4.8 -6.0 4.8 6.0 -4.8 6.0zM538.3 750.7l4.8 -6.0 4.8 6.0 -4.8 6.0zM541.9 750.7l4.8 -6.0 4.8 6.0 -4.8 6.0zM545.6 750.7l4.8 -6.0 4.8 6.0 -4.8 6.0zM549.2 750.7l4.8 -6.0 4.8 6.0 -4.8 6.0zM552.9 750.7l4.8 -6.0 4.8 6.0 -4.8 6.0zM556.5 750.7l4.8 -6.0 4.8 6.0 -4.8 6.0zM560.2 750.7l4.8 -6.0 4.8 6.0 -4.8 6.0zM563.8 750.7l4.8 -6.0 4.8 6.0 -4.8 6.0zM567.5 750.7l4.8 -6.0 4.8 6.0 -4.8 6.0zM571.1 750.7l4.8 -6.0 4.8 6.0 -4.8 6.0zM574.8 750.7l4.8 -6.0 4.8 6.0 -4.8 6.0zM578.4 750.7l4.8 -6.0 4.8 6.0 -4.8 6.0zM582.1 750.7l4.8 -6.0 4.8 6.0 -4.8 6.0zM585.8 750.7l4.8 -6.0 4.8 6.0 -4.8 6.0zM589.4 750.7l4.8 -6.0 4.8 6.0 -4.8 6.0zM593.1 750.7l4.8 -6.0 4.8 6.0 -4.8 6.0zM596.7 750.7l4.8 -6.0 4.8 6.0 -4.8 6.0zM600.4 750.7l4.8 -6.0 4.8 6.0 -4.8 6.0zM604.0 750.7l4.8 -6.0 4.8 6.0 -4.8 6.0zM607.7 750.7l4.8 -6.0 4.8 6.0 -4.8 6.0zM611.3 750.7l4.8 -6.0 4.8 6.0 -4.8 6.0zM615.0 750.7l4.8 -6.0 4.8 6.0 -4.8 6.0zM618.6 750.7l4.8 -6.0 4.8 6.0 -4.8 6.0zM622.3 750.7l4.8 -6.0 4.8 6.0 -4.8 6.0zM625.9 750.7l4.8 -6.0 4.8 6.0 -4.8 6.0zM629.6 750.7l4.8 -6.0 4.8 6.0 -4.8 6.0zM633.2 750.7l4.8 -6.0 4.8 6.0 -4.8 6.0zM636.9 750.7l4.8 -6.0 4.8 6.0 -4.8 6.0zM640.5 750.7l4.8 -6.0 4.8 6.0 -4.8 6.0zM644.2 750.7l4.8 -6.0 4.8 6.0 -4.8 6.0zM647.8 750.7l4.8 -6.0 4.8 6.0 -4.8 6.0zM651.5 750.7l4.8 -6.0 4.8 6.0 -4.8 6.0zM655.1 750.7l4.8 -6.0 4.8 6.0 -4.8 6.0zM658.8 750.7l4.8 -6.0 4.8 6.0 -4.8 6.0zM662.5 750.7l4.8 -6.0 4.8 6.0 -4.8 6.0zM666.1 750.7l4.8 -6.0 4.8 6.0 -4.8 6.0zM669.8 750.7l4.8 -6.0 4.8 6.0 -4.8 6.0zM673.4 750.7l4.8 -6.0 4.8 6.0 -4.8 6.0zM677.1 750.7l4.8 -6.0 4.8 6.0 -4.8 6.0zM680.7 750.7l4.8 -6.0 4.8 6.0 -4.8 6.0zM684.4 750.7l4.8 -6.0 4.8 6.0 -4.8 6.0zM688.0 750.7l4.8 -6.0 4.8 6.0 -4.8 6.0zM691.7 750.7l4.8 -6.0 4.8 6.0 -4.8 6.0zM695.3 750.7l4.8 -6.0 4.8 6.0 -4.8 6.0zM699.0 750.7l4.8 -6.0 4.8 6.0 -4.8 6.0zM702.6 750.7l4.8 -6.0 4.8 6.0 -4.8 6.0zM706.3 750.7l4.8 -6.0 4.8 6.0 -4.8 6.0zM709.9 750.7l4.8 -6.0 4.8 6.0 -4.8 6.0zM713.6 750.7l4.8 -6.0 4.8 6.0 -4.8 6.0zM717.2 750.7l4.8 -6.0 4.8 6.0 -4.8 6.0zM720.9 750.7l4.8 -6.0 4.8 6.0 -4.8 6.0zM724.5 750.7l4.8 -6.0 4.8 6.0 -4.8 6.0zM728.2 750.7l4.8 -6.0 4.8 6.0 -4.8 6.0zM731.9 750.7l4.8 -6.0 4.8 6.0 -4.8 6.0zM735.5 750.7l4.8 -6.0 4.8 6.0 -4.8 6.0zM739.2 750.7l4.8 -6.0 4.8 6.0 -4.8 6.0zM742.8 750.7l4.8 -6.0 4.8 6.0 -4.8 6.0zM746.5 750.7l4.8 -6.0 4.8 6.0 -4.8 6.0zM750.1 750.7l4.8 -6.0 4.8 6.0 -4.8 6.0zM753.8 750.7l4.8 -6.0 4.8 6.0 -4.8 6.0zM757.4 750.7l4.8 -6.0 4.8 6.0 -4.8 6.0zM761.1 750.7l4.8 -6.0 4.8 6.0 -4.8 6.0zM764.7 750.7l4.8 -6.0 4.8 6.0 -4.8 6.0zM768.4 750.7l4.8 -6.0 4.8 6.0 -4.8 6.0zM772.0 750.7l4.8 -6.0 4.8 6.0 -4.8 6.0zM775.7 750.7l4.8 -6.0 4.8 6.0 -4.8 6.0zM779.3 750.7l4.8 -6.0 4.8 6.0 -4.8 6.0zM783.0 750.7l4.8 -6.0 4.8 6.0 -4.8 6.0zM786.6 750.7l4.8 -6.0 4.8 6.0 -4.8 6.0zM1075.2 750.7l4.8 -6.0 4.8 6.0 -4.8 6.0zM1078.8 750.7l4.8 -6.0 4.8 6.0 -4.8 6.0zM1082.5 750.7l4.8 -6.0 4.8 6.0 -4.8 6.0zM1086.1 750.7l4.8 -6.0 4.8 6.0 -4.8 6.0zM1089.8 750.7l4.8 -6.0 4.8 6.0 -4.8 6.0zM1093.5 750.7l4.8 -6.0 4.8 6.0 -4.8 6.0zM1097.1 750.7l4.8 -6.0 4.8 6.0 -4.8 6.0zM1100.8 750.7l4.8 -6.0 4.8 6.0 -4.8 6.0zM1104.4 750.7l4.8 -6.0 4.8 6.0 -4.8 6.0zM1108.1 750.7l4.8 -6.0 4.8 6.0 -4.8 6.0zM1111.7 750.7l4.8 -6.0 4.8 6.0 -4.8 6.0zM1115.4 750.7l4.8 -6.0 4.8 6.0 -4.8 6.0zM1119.0 750.7l4.8 -6.0 4.8 6.0 -4.8 6.0zM1122.7 750.7l4.8 -6.0 4.8 6.0 -4.8 6.0zM1126.3 750.7l4.8 -6.0 4.8 6.0 -4.8 6.0zM1130.0 750.7l4.8 -6.0 4.8 6.0 -4.8 6.0zM1133.6 750.7l4.8 -6.0 4.8 6.0 -4.8 6.0zM1137.3 750.7l4.8 -6.0 4.8 6.0 -4.8 6.0zM1140.9 750.7l4.8 -6.0 4.8 6.0 -4.8 6.0zM1144.6 750.7l4.8 -6.0 4.8 6.0 -4.8 6.0zM1148.2 750.7l4.8 -6.0 4.8 6.0 -4.8 6.0zM1151.9 750.7l4.8 -6.0 4.8 6.0 -4.8 6.0zM1155.5 750.7l4.8 -6.0 4.8 6.0 -4.8 6.0zM1159.2 750.7l4.8 -6.0 4.8 6.0 -4.8 6.0zM1162.8 750.7l4.8 -6.0 4.8 6.0 -4.8 6.0zM1166.5 750.7l4.8 -6.0 4.8 6.0 -4.8 6.0zM1170.2 750.7l4.8 -6.0 4.8 6.0 -4.8 6.0zM1173.8 750.7l4.8 -6.0 4.8 6.0 -4.8 6.0zM1177.5 750.7l4.8 -6.0 4.8 6.0 -4.8 6.0zM1181.1 750.7l4.8 -6.0 4.8 6.0 -4.8 6.0zM1184.8 750.7l4.8 -6.0 4.8 6.0 -4.8 6.0zM1188.4 750.7l4.8 -6.0 4.8 6.0 -4.8 6.0zM1192.1 750.7l4.8 -6.0 4.8 6.0 -4.8 6.0zM1195.7 750.7l4.8 -6.0 4.8 6.0 -4.8 6.0zM1199.4 750.7l4.8 -6.0 4.8 6.0 -4.8 6.0zM1203.0 750.7l4.8 -6.0 4.8 6.0 -4.8 6.0zM1206.7 750.7l4.8 -6.0 4.8 6.0 -4.8 6.0zM1210.3 750.7l4.8 -6.0 4.8 6.0 -4.8 6.0zM1214.0 750.7l4.8 -6.0 4.8 6.0 -4.8 6.0zM1217.6 750.7l4.8 -6.0 4.8 6.0 -4.8 6.0zM1221.3 750.7l4.8 -6.0 4.8 6.0 -4.8 6.0zM1224.9 750.7l4.8 -6.0 4.8 6.0 -4.8 6.0zM1228.6 750.7l4.8 -6.0 4.8 6.0 -4.8 6.0zM1232.2 750.7l4.8 -6.0 4.8 6.0 -4.8 6.0zM1235.9 750.7l4.8 -6.0 4.8 6.0 -4.8 6.0zM1239.5 750.7l4.8 -6.0 4.8 6.0 -4.8 6.0zM1243.2 750.7l4.8 -6.0 4.8 6.0 -4.8 6.0zM1246.9 750.7l4.8 -6.0 4.8 6.0 -4.8 6.0zM1250.5 750.7l4.8 -6.0 4.8 6.0 -4.8 6.0zM1254.2 750.7l4.8 -6.0 4.8 6.0 -4.8 6.0zM1257.8 750.7l4.8 -6.0 4.8 6.0 -4.8 6.0zM1261.5 750.7l4.8 -6.0 4.8 6.0 -4.8 6.0zM1265.1 750.7l4.8 -6.0 4.8 6.0 -4.8 6.0zM1268.8 750.7l4.8 -6.0 4.8 6.0 -4.8 6.0zM1272.4 750.7l4.8 -6.0 4.8 6.0 -4.8 6.0zM1276.1 750.7l4.8 -6.0 4.8 6.0 -4.8 6.0zM1279.7 750.7l4.8 -6.0 4.8 6.0 -4.8 6.0zM1283.4 750.7l4.8 -6.0 4.8 6.0 -4.8 6.0zM1287.0 750.7l4.8 -6.0 4.8 6.0 -4.8 6.0zM1290.7 750.7l4.8 -6.0 4.8 6.0 -4.8 6.0zM1294.3 750.7l4.8 -6.0 4.8 6.0 -4.8 6.0zM1298.0 750.7l4.8 -6.0 4.8 6.0 -4.8 6.0zM1301.6 750.7l4.8 -6.0 4.8 6.0 -4.8 6.0zM1305.3 750.7l4.8 -6.0 4.8 6.0 -4.8 6.0zM1308.9 750.7l4.8 -6.0 4.8 6.0 -4.8 6.0zM1312.6 750.7l4.8 -6.0 4.8 6.0 -4.8 6.0zM1316.3 750.7l4.8 -6.0 4.8 6.0 -4.8 6.0zM1319.9 750.7l4.8 -6.0 4.8 6.0 -4.8 6.0zM1323.6 750.7l4.8 -6.0 4.8 6.0 -4.8 6.0zM1327.2 750.7l4.8 -6.0 4.8 6.0 -4.8 6.0zM1330.9 750.7l4.8 -6.0 4.8 6.0 -4.8 6.0zM1334.5 750.7l4.8 -6.0 4.8 6.0 -4.8 6.0zM1338.2 750.7l4.8 -6.0 4.8 6.0 -4.8 6.0zM1341.8 750.7l4.8 -6.0 4.8 6.0 -4.8 6.0zM1345.5 750.7l4.8 -6.0 4.8 6.0 -4.8 6.0zM1349.1 750.7l4.8 -6.0 4.8 6.0 -4.8 6.0zM1352.8 750.7l4.8 -6.0 4.8 6.0 -4.8 6.0zM1356.4 750.7l4.8 -6.0 4.8 6.0 -4.8 6.0zM1360.1 750.7l4.8 -6.0 4.8 6.0 -4.8 6.0zM1363.7 750.7l4.8 -6.0 4.8 6.0 -4.8 6.0zM1367.4 750.7l4.8 -6.0 4.8 6.0 -4.8 6.0zM1371.0 750.7l4.8 -6.0 4.8 6.0 -4.8 6.0zM1374.7 750.7l4.8 -6.0 4.8 6.0 -4.8 6.0zM1378.3 750.7l4.8 -6.0 4.8 6.0 -4.8 6.0zM1382.0 750.7l4.8 -6.0 4.8 6.0 -4.8 6.0zM1385.7 750.7l4.8 -6.0 4.8 6.0 -4.8 6.0zM1389.3 750.7l4.8 -6.0 4.8 6.0 -4.8 6.0zM1393.0 750.7l4.8 -6.0 4.8 6.0 -4.8 6.0zM1396.6 750.7l4.8 -6.0 4.8 6.0 -4.8 6.0zM1400.3 750.7l4.8 -6.0 4.8 6.0 -4.8 6.0zM1403.9 750.7l4.8 -6.0 4.8 6.0 -4.8 6.0zM1407.6 750.7l4.8 -6.0 4.8 6.0 -4.8 6.0zM1411.2 750.7l4.8 -6.0 4.8 6.0 -4.8 6.0zM1414.9 750.7l4.8 -6.0 4.8 6.0 -4.8 6.0zM1418.5 750.7l4.8 -6.0 4.8 6.0 -4.8 6.0zM1422.2 750.7l4.8 -6.0 4.8 6.0 -4.8 6.0zM1425.8 750.7l4.8 -6.0 4.8 6.0 -4.8 6.0zM1429.5 750.7l4.8 -6.0 4.8 6.0 -4.8 6.0zM1433.1 750.7l4.8 -6.0 4.8 6.0 -4.8 6.0zM1436.8 750.7l4.8 -6.0 4.8 6.0 -4.8 6.0zM1440.4 750.7l4.8 -6.0 4.8 6.0 -4.8 6.0zM1444.1 750.7l4.8 -6.0 4.8 6.0 -4.8 6.0zM1447.7 750.7l4.8 -6.0 4.8 6.0 -4.8 6.0zM1451.4 750.7l4.8 -6.0 4.8 6.0 -4.8 6.0zM1455.0 750.7l4.8 -6.0 4.8 6.0 -4.8 6.0zM1458.7 750.7l4.8 -6.0 4.8 6.0 -4.8 6.0zM1462.4 750.7l4.8 -6.0 4.8 6.0 -4.8 6.0zM1466.0 750.7l4.8 -6.0 4.8 6.0 -4.8 6.0zM1469.7 750.7l4.8 -6.0 4.8 6.0 -4.8 6.0zM1473.3 750.7l4.8 -6.0 4.8 6.0 -4.8 6.0zM1477.0 750.7l4.8 -6.0 4.8 6.0 -4.8 6.0zM1480.6 750.7l4.8 -6.0 4.8 6.0 -4.8 6.0zM1484.3 750.7l4.8 -6.0 4.8 6.0 -4.8 6.0zM1487.9 750.7l4.8 -6.0 4.8 6.0 -4.8 6.0zM1491.6 750.7l4.8 -6.0 4.8 6.0 -4.8 6.0z"/>
</g>
<polygon fill="#00ffff" points="39.9,489.6 44.1,486.4 53.8,486.1 53.8,496.0 49.5,499.9 49.5,493.2 42.3,499.9 39.8,497.2 45.3,491.8"/>
<polygon fill="#00ffff" points="1073.9,299.2 1078.1,296.1 1087.8,295.8 1087.8,305.6 1083.5,309.5 1083.5,302.9 1076.3,309.5 1073.8,306.8 1079.3,301.4"/>
<polygon fill="#0000e0" points="802.3,251.8 802.3,242.6 798.2,238.4 798.2,243.75 791.3,238.1 788.8,240.5 794.3,246.1 788.9,248.5 792.5,251.8"/>
<rect x="49.9" y="241.95" width="3.1" height="1.1" fill="#009400"/>
<rect x="55.4" y="241.95" width="3.1" height="1.1" fill="#009400"/>
<rect x="60.9" y="241.95" width="3.1" height="1.1" fill="#009400"/>
<rect x="66.4" y="241.95" width="3.1" height="1.1" fill="#009400"/>
<rect x="71.9" y="241.95" width="3.1" height="1.1" fill="#009400"/>
<rect x="77.4" y="241.95" width="3.1" height="1.1" fill="#009400"/>
<rect x="82.9" y="241.95" width="3.1" height="1.1" fill="#009400"/>
<rect x="799.4" y="311.95" width="3.1" height="1.1" fill="#009400"/>
<rect x="804.9" y="311.95" width="3.1" height="1.1" fill="#009400"/>
<rect x="810.4" y="311.95" width="3.1" height="1.1" fill="#009400"/>
<rect x="815.9" y="311.95" width="3.1" height="1.1" fill="#009400"/>
<rect x="821.4" y="311.95" width="3.1" height="1.1" fill="#009400"/>
<rect x="826.9" y="311.95" width="3.1" height="1.1" fill="#009400"/>
<rect x="832.4" y="311.95" width="3.1" height="1.1" fill="#009400"/>
<rect x="1084.2" y="71.65" width="3.1" height="1.1" fill="#009400"/>
<rect x="1089.7" y="71.65" width="3.1" height="1.1" fill="#009400"/>
<rect x="1095.2" y="71.65" width="3.1" height="1.1" fill="#009400"/>
<rect x="1100.7" y="71.65" width="3.1" height="1.1" fill="#009400"/>
<rect x="1106.2" y="71.65" width="3.1" height="1.1" fill="#009400"/>
<rect x="1111.7" y="71.65" width="3.1" height="1.1" fill="#009400"/>
<rect x="1117.2" y="71.65" width="3.1" height="1.1" fill="#009400"/>
<rect x="50.1" y="478.95" width="3.1" height="1.1" fill="#e80000"/>
<rect x="55.6" y="478.95" width="3.1" height="1.1" fill="#e80000"/>
<rect x="61.1" y="478.95" width="3.1" height="1.1" fill="#e80000"/>
<rect x="66.6" y="478.95" width="3.1" height="1.1" fill="#e80000"/>
<rect x="72.1" y="478.95" width="3.1" height="1.1" fill="#e80000"/>
<rect x="77.6" y="478.95" width="3.1" height="1.1" fill="#e80000"/>
<rect x="83.1" y="478.95" width="3.1" height="1.1" fill="#e80000"/>
<rect x="799.2" y="248.05" width="3.1" height="1.1" fill="#e80000"/>
<rect x="804.7" y="248.05" width="3.1" height="1.1" fill="#e80000"/>
<rect x="810.2" y="248.05" width="3.1" height="1.1" fill="#e80000"/>
<rect x="815.7" y="248.05" width="3.1" height="1.1" fill="#e80000"/>
<rect x="821.2" y="248.05" width="3.1" height="1.1" fill="#e80000"/>
<rect x="826.7" y="248.05" width="3.1" height="1.1" fill="#e80000"/>
<rect x="832.2" y="248.05" width="3.1" height="1.1" fill="#e80000"/>
<rect x="1084.3" y="295.75" width="3.1" height="1.1" fill="#e80000"/>
<rect x="1089.8" y="295.75" width="3.1" height="1.1" fill="#e80000"/>
<rect x="1095.3" y="295.75" width="3.1" height="1.1" fill="#e80000"/>
<rect x="1100.8" y="295.75" width="3.1" height="1.1" fill="#e80000"/>
<rect x="1106.3" y="295.75" width="3.1" height="1.1" fill="#e80000"/>
<rect x="1111.8" y="295.75" width="3.1" height="1.1" fill="#e80000"/>
<rect x="1117.3" y="295.75" width="3.1" height="1.1" fill="#e80000"/>
<g class="lab" font-size="15.3" stroke="#fff" stroke-width="0.35">
<text x="29.4" y="521.2" textLength="34.9" lengthAdjust="spacingAndGlyphs">BUY</text>
<text x="1062.9" y="329.8" textLength="34.9" lengthAdjust="spacingAndGlyphs">BUY</text>
<text x="774.4" y="230.1" textLength="42.4" lengthAdjust="spacingAndGlyphs">SELL</text>
</g>
<circle cx="741.2" cy="242" r="13.2" fill="none" stroke="#00ffff" stroke-width="3.6"/>
<circle cx="946.5" cy="312.4" r="13.4" fill="none" stroke="#0000cd" stroke-width="3.6"/>
<circle cx="1434.2" cy="71.9" r="12.8" fill="none" stroke="#00ffff" stroke-width="3.6"/>
<use href="#e1" fill="#00ffff" stroke="#00ffff" stroke-width="6.2"/>
<g fill="#000" stroke="#000" stroke-width="0.2"><text id="e1" class="ex" x="669.1" y="231.9" font-size="25.3" textLength="55.3" lengthAdjust="spacingAndGlyphs">EXIT</text></g>
<use href="#e2" fill="#0000cd" stroke="#0000cd" stroke-width="5.6"/>
<g fill="#fff" stroke="#fff" stroke-width="0.3"><text id="e2" class="ex" x="863.3" y="337" font-size="26.2" textLength="56.2" lengthAdjust="spacingAndGlyphs">EXIT</text></g>
<use href="#e3" fill="#00ffff" stroke="#00ffff" stroke-width="6.2"/>
<g fill="#000" stroke="#000" stroke-width="0.2"><text id="e3" class="ex" x="1351.3" y="96.5" font-size="25.3" textLength="55.3" lengthAdjust="spacingAndGlyphs">EXIT</text></g>
<g fill="#000" stroke="#000" stroke-width="4.60"><use href="#w1" x="-1.90"/><use href="#w1" x="-0.95"/><use href="#w1" x="0.00"/><use href="#w1" x="0.95"/><use href="#w1" x="1.90"/></g>
<g fill="#000" stroke="#000" stroke-width="4.60"><use href="#w2" x="-1.90"/><use href="#w2" x="-0.95"/><use href="#w2" x="0.00"/><use href="#w2" x="0.95"/><use href="#w2" x="1.90"/></g>
<g fill="#000" stroke="#000" stroke-width="4.60"><use href="#w3" x="-1.90"/><use href="#w3" x="-0.95"/><use href="#w3" x="0.00"/><use href="#w3" x="0.95"/><use href="#w3" x="1.90"/></g>
<g fill="#000" stroke="#000" stroke-width="4.60"><use href="#w4" x="-1.90"/><use href="#w4" x="-0.95"/><use href="#w4" x="0.00"/><use href="#w4" x="0.95"/><use href="#w4" x="1.90"/></g>
<g fill="#000" stroke="#000" stroke-width="4.60"><use href="#w5" x="-1.90"/><use href="#w5" x="-0.95"/><use href="#w5" x="0.00"/><use href="#w5" x="0.95"/><use href="#w5" x="1.90"/></g>
<g fill="#000" stroke="#000" stroke-width="4.60"><use href="#w6" x="-1.90"/><use href="#w6" x="-0.95"/><use href="#w6" x="0.00"/><use href="#w6" x="0.95"/><use href="#w6" x="1.90"/></g>
<g fill="#000" stroke="#000" stroke-width="4.80"><use href="#w7" x="-1.60" y="0.3"/><use href="#w7" x="-0.65" y="0.3"/><use href="#w7" x="0.30" y="0.3"/><use href="#w7" x="1.25" y="0.3"/><use href="#w7" x="2.20" y="0.3"/></g>
<g fill="#000" stroke="#000" stroke-width="4.80"><use href="#w8" x="-1.60" y="0.3"/><use href="#w8" x="-0.65" y="0.3"/><use href="#w8" x="0.30" y="0.3"/><use href="#w8" x="1.25" y="0.3"/><use href="#w8" x="2.20" y="0.3"/></g>
<g fill="#000" stroke="#000" stroke-width="4.80"><use href="#w9" x="-1.60" y="0.3"/><use href="#w9" x="-0.65" y="0.3"/><use href="#w9" x="0.30" y="0.3"/><use href="#w9" x="1.25" y="0.3"/><use href="#w9" x="2.20" y="0.3"/></g>
<g fill="#000" stroke="#000" stroke-width="4.80"><use href="#w10" x="-1.60" y="0.3"/><use href="#w10" x="-0.65" y="0.3"/><use href="#w10" x="0.30" y="0.3"/><use href="#w10" x="1.25" y="0.3"/><use href="#w10" x="2.20" y="0.3"/></g>
<g fill="#ffff00" stroke="#ffff00" stroke-width="2.0"><use href="#w1" x="-1.90"/><use href="#w1" x="-0.95"/><use href="#w1" x="0.95"/><use href="#w1" x="1.90"/><text id="w1" class="big" transform="translate(402.52 197.70) scale(1.0 1)" font-size="62.9" letter-spacing="3.25">169.1</text></g>
<g fill="#ffff00" stroke="#ffff00" stroke-width="2.0"><use href="#w2" x="-1.90"/><use href="#w2" x="-0.95"/><use href="#w2" x="0.95"/><use href="#w2" x="1.90"/><text id="w2" class="big" transform="translate(593.51 197.70) scale(0.9 1)" font-size="62.9" letter-spacing="4.45">PIPS!</text></g>
<g fill="#ffff00" stroke="#ffff00" stroke-width="2.0"><use href="#w3" x="-1.90"/><use href="#w3" x="-0.95"/><use href="#w3" x="0.95"/><use href="#w3" x="1.90"/><text id="w3" class="big" transform="translate(1056.12 66.50) scale(1.0 1)" font-size="62.9" letter-spacing="3.44">149.7</text></g>
<g fill="#ffff00" stroke="#ffff00" stroke-width="2.0"><use href="#w4" x="-1.90"/><use href="#w4" x="-0.95"/><use href="#w4" x="0.95"/><use href="#w4" x="1.90"/><text id="w4" class="big" transform="translate(1246.61 66.50) scale(0.9 1)" font-size="62.9" letter-spacing="4.89">PIPS!</text></g>
<g fill="#ffff00" stroke="#ffff00" stroke-width="2.0"><use href="#w5" x="-1.90"/><use href="#w5" x="-0.95"/><use href="#w5" x="0.95"/><use href="#w5" x="1.90"/><text id="w5" class="big" transform="translate(673.55 396.00) scale(1.0 1)" font-size="62.9" letter-spacing="3.59">32.1</text></g>
<g fill="#ffff00" stroke="#ffff00" stroke-width="2.0"><use href="#w6" x="-1.90"/><use href="#w6" x="-0.95"/><use href="#w6" x="0.95"/><use href="#w6" x="1.90"/><text id="w6" class="big" transform="translate(826.01 396.00) scale(0.9 1)" font-size="62.9" letter-spacing="4.67">PIPS!</text></g>
<g fill="#ffffff" stroke="#ffffff" stroke-width="2.0"><use href="#w7" x="-1.90"/><use href="#w7" x="-0.95"/><use href="#w7" x="0.95"/><use href="#w7" x="1.90"/><text id="w7" class="big" transform="translate(729.61 519.30) scale(1.0 1)" font-size="62.9" letter-spacing="2.80">Total</text></g>
<g fill="#ffffff" stroke="#ffffff" stroke-width="2.0"><use href="#w8" x="-1.90"/><use href="#w8" x="-0.95"/><use href="#w8" x="0.95"/><use href="#w8" x="1.90"/><text id="w8" class="big" transform="translate(911.65 519.30) scale(1.0 1)" font-size="62.9" letter-spacing="1.68">profit:</text></g>
<g fill="#ffffff" stroke="#ffffff" stroke-width="2.0"><use href="#w9" x="-1.90"/><use href="#w9" x="-0.95"/><use href="#w9" x="0.95"/><use href="#w9" x="1.90"/><text id="w9" class="big" transform="translate(1124.35 519.30) scale(1.0 1)" font-size="62.9" letter-spacing="4.32">350.9</text></g>
<g fill="#ffffff" stroke="#ffffff" stroke-width="2.0"><use href="#w10" x="-1.90"/><use href="#w10" x="-0.95"/><use href="#w10" x="0.95"/><use href="#w10" x="1.90"/><text id="w10" class="big" transform="translate(1321.05 519.30) scale(1.0 1)" font-size="62.9" letter-spacing="0.69">pips!</text></g>
<rect x="400.79" y="187" width="12.19" height="2" fill="#040433"/>
<rect x="430.06" y="187" width="9.36" height="2" fill="#040433"/>
<rect x="400.79" y="189" width="12.19" height="2" fill="#040433"/>
<rect x="430.06" y="189" width="9.86" height="2" fill="#040433"/>
<rect x="400.79" y="191" width="12.19" height="2" fill="#040433"/>
<rect x="430.06" y="191" width="10.49" height="2" fill="#040433"/>
<rect x="400.79" y="193" width="12.19" height="2" fill="#040433"/>
<rect x="430.06" y="193" width="11.37" height="2" fill="#040433"/>
<rect x="400.79" y="195" width="12.19" height="2" fill="#040433"/>
<rect x="430.06" y="195" width="11.38" height="2" fill="#040433"/>
<rect x="400.79" y="197" width="12.19" height="2" fill="#040433"/>
<rect x="430.06" y="197" width="11.38" height="2" fill="#040433"/>
<rect x="400.79" y="199" width="12.19" height="2" fill="#040433"/>
<rect x="430.06" y="199" width="11.38" height="2" fill="#040433"/>
<rect x="400.79" y="201" width="12.19" height="1" fill="#040433"/>
<rect x="430.06" y="201" width="11.38" height="1" fill="#040433"/>
<rect x="412.98" y="187" width="1.30" height="13.00" fill="#000"/>
<rect x="428.76" y="187" width="1.30" height="13.00" fill="#000"/>
<rect x="536.23" y="187" width="12.19" height="2" fill="#040433"/>
<rect x="565.50" y="187" width="11.38" height="2" fill="#040433"/>
<rect x="536.23" y="189" width="12.19" height="2" fill="#040433"/>
<rect x="565.50" y="189" width="11.38" height="2" fill="#040433"/>
<rect x="536.23" y="191" width="12.19" height="2" fill="#040433"/>
<rect x="565.50" y="191" width="11.38" height="2" fill="#040433"/>
<rect x="536.23" y="193" width="12.19" height="2" fill="#040433"/>
<rect x="565.50" y="193" width="11.38" height="2" fill="#040433"/>
<rect x="536.23" y="195" width="12.19" height="2" fill="#040433"/>
<rect x="565.50" y="195" width="11.38" height="2" fill="#040433"/>
<rect x="536.23" y="197" width="12.19" height="2" fill="#040433"/>
<rect x="565.50" y="197" width="11.38" height="2" fill="#040433"/>
<rect x="536.23" y="199" width="12.19" height="2" fill="#040433"/>
<rect x="565.50" y="199" width="11.38" height="2" fill="#040433"/>
<rect x="536.23" y="201" width="12.19" height="1" fill="#040433"/>
<rect x="565.50" y="201" width="11.38" height="1" fill="#040433"/>
<rect x="548.42" y="187" width="1.30" height="13.00" fill="#000"/>
<rect x="564.20" y="187" width="1.30" height="13.00" fill="#000"/>
<rect x="1054.39" y="55" width="12.19" height="2" fill="#040433"/>
<rect x="1083.66" y="55" width="7.53" height="2" fill="#040433"/>
<rect x="1054.39" y="57" width="12.19" height="2" fill="#040433"/>
<rect x="1083.66" y="57" width="7.53" height="2" fill="#040433"/>
<rect x="1054.39" y="59" width="12.19" height="2" fill="#040433"/>
<rect x="1083.66" y="59" width="7.53" height="2" fill="#040433"/>
<rect x="1054.39" y="61" width="12.19" height="2" fill="#040433"/>
<rect x="1083.66" y="61" width="11.38" height="2" fill="#040433"/>
<rect x="1054.39" y="63" width="12.19" height="2" fill="#040433"/>
<rect x="1083.66" y="63" width="11.38" height="2" fill="#040433"/>
<rect x="1054.39" y="65" width="12.19" height="2" fill="#040433"/>
<rect x="1083.66" y="65" width="11.38" height="2" fill="#040433"/>
<rect x="1054.39" y="67" width="12.19" height="2" fill="#040433"/>
<rect x="1083.66" y="67" width="11.38" height="2" fill="#040433"/>
<rect x="1054.39" y="69" width="12.19" height="1" fill="#040433"/>
<rect x="1083.66" y="69" width="11.38" height="1" fill="#040433"/>
<rect x="1066.58" y="55" width="1.30" height="13.80" fill="#000"/>
<rect x="1082.36" y="55" width="1.30" height="13.80" fill="#000"/>
<rect x="770.03" y="385" width="12.19" height="2" fill="#040433"/>
<rect x="799.30" y="385" width="11.38" height="2" fill="#040433"/>
<rect x="770.03" y="387" width="12.19" height="2" fill="#040433"/>
<rect x="799.30" y="387" width="11.38" height="2" fill="#040433"/>
<rect x="770.03" y="389" width="12.19" height="2" fill="#040433"/>
<rect x="799.30" y="389" width="11.38" height="2" fill="#040433"/>
<rect x="770.03" y="391" width="12.19" height="2" fill="#040433"/>
<rect x="799.30" y="391" width="11.38" height="2" fill="#040433"/>
<rect x="770.03" y="393" width="12.19" height="2" fill="#040433"/>
<rect x="799.30" y="393" width="11.38" height="2" fill="#040433"/>
<rect x="770.03" y="395" width="12.19" height="2" fill="#040433"/>
<rect x="799.30" y="395" width="11.38" height="2" fill="#040433"/>
<rect x="770.03" y="397" width="12.19" height="2" fill="#040433"/>
<rect x="799.30" y="397" width="11.38" height="2" fill="#040433"/>
<rect x="770.03" y="399" width="12.19" height="1" fill="#040433"/>
<rect x="799.30" y="399" width="11.38" height="1" fill="#040433"/>
<rect x="782.22" y="385" width="1.30" height="13.30" fill="#000"/>
<rect x="798.00" y="385" width="1.30" height="13.30" fill="#000"/>
<rect x="9" y="18.4" width="91.6" height="23.4" fill="#fdfdfd" stroke="#c8c8d0" stroke-width="1"/>
<rect x="63" y="19.5" width="36.6" height="21.3" fill="#f0f0f0"/>
<clipPath id="cb"><rect x="10" y="19" width="53" height="22"/></clipPath>
<text x="22.4" y="34.5" font-size="12.4" font-weight="700" fill="#0000f0" clip-path="url(#cb)">Cryo S</text>
<g fill="none" stroke="#a2a2a8" stroke-width="1.1"><rect x="67.6" y="28.4" width="5.4" height="5.4"/><path d="M69.8 28.2V26.2h5.4v5.4h-2"/></g>
<path d="M85.4 26.9l6.8 6.8M92.2 26.9l-6.8 6.8" stroke="#a2a2a8" stroke-width="2" fill="none"/>
</svg></body></html>
